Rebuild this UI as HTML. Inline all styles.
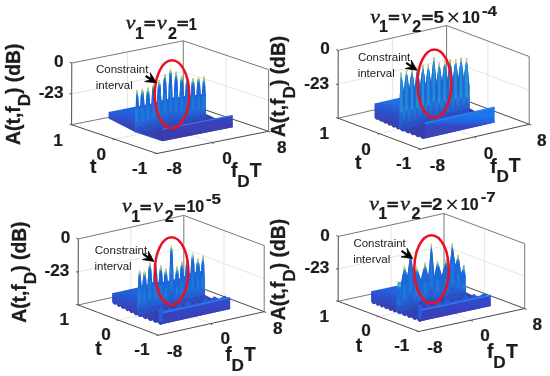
<!DOCTYPE html>
<html><head><meta charset="utf-8"><title>Ambiguity function figure</title>
<style>html,body{margin:0;padding:0;background:#fff}svg{display:block}</style></head>
<body><svg width="550" height="376" viewBox="0 0 550 376">
<defs><filter id="soft" x="0" y="0" width="550" height="376" filterUnits="userSpaceOnUse"><feGaussianBlur stdDeviation="0.4"/></filter></defs>
<rect width="550" height="376" fill="#fff"/>
<g filter="url(#soft)">
<g id="sp0"><line x1="71.6" y1="93.8" x2="183.3" y2="71.7" stroke="#e2e2e2" stroke-width="0.9"/>
<line x1="183.3" y1="71.7" x2="268.6" y2="100.5" stroke="#e2e2e2" stroke-width="0.9"/>
<line x1="127.5" y1="113.6" x2="127.5" y2="51.9" stroke="#e2e2e2" stroke-width="0.9"/>
<line x1="226.0" y1="116.9" x2="226.0" y2="55.2" stroke="#e2e2e2" stroke-width="0.9"/>
<line x1="114.2" y1="139.1" x2="226.0" y2="116.9" stroke="#e2e2e2" stroke-width="0.9"/>
<line x1="212.8" y1="142.4" x2="127.5" y2="113.6" stroke="#e2e2e2" stroke-width="0.9"/>
<line x1="71.8" y1="63.0" x2="183.3" y2="40.8" stroke="#787878" stroke-width="1"/>
<line x1="183.3" y1="40.8" x2="268.6" y2="69.6" stroke="#787878" stroke-width="1"/>
<line x1="183.3" y1="40.8" x2="183.3" y2="102.5" stroke="#787878" stroke-width="1"/>
<line x1="268.6" y1="69.6" x2="268.6" y2="131.3" stroke="#787878" stroke-width="1"/>
<line x1="183.3" y1="102.5" x2="71.6" y2="124.7" stroke="#787878" stroke-width="1"/>
<line x1="71.8" y1="63.0" x2="71.6" y2="124.7" stroke="#4a4a4a" stroke-width="1"/>
<line x1="71.6" y1="124.7" x2="156.9" y2="153.5" stroke="#4a4a4a" stroke-width="1"/>
<line x1="156.9" y1="153.5" x2="268.6" y2="131.3" stroke="#4a4a4a" stroke-width="1"/>
<line x1="183.3" y1="102.5" x2="268.6" y2="131.3" stroke="#4a4a4a" stroke-width="1"/>
<line x1="71.8" y1="63.0" x2="69.8" y2="62.2" stroke="#4a4a4a" stroke-width="1"/>
<line x1="71.6" y1="124.7" x2="69.6" y2="124.2" stroke="#4a4a4a" stroke-width="1"/>
<line x1="71.6" y1="93.8" x2="69.6" y2="93.8" stroke="#4a4a4a" stroke-width="1"/>
<line x1="156.9" y1="153.5" x2="154.9" y2="153.5" stroke="#4a4a4a" stroke-width="1"/>
<line x1="268.6" y1="131.3" x2="270.6" y2="132.1" stroke="#4a4a4a" stroke-width="1"/>
<line x1="114.2" y1="139.1" x2="112.7" y2="139.9" stroke="#4a4a4a" stroke-width="1"/>
<line x1="212.8" y1="142.4" x2="213.2" y2="144.0" stroke="#4a4a4a" stroke-width="1"/>
<linearGradient id="gs0" gradientUnits="userSpaceOnUse" x1="116.6" y1="109.0" x2="112.6" y2="128.2"><stop offset="0" stop-color="#1f66e2"/><stop offset="0.3" stop-color="#2a58d2"/><stop offset="0.65" stop-color="#3348c0"/><stop offset="1" stop-color="#3a3ca8"/></linearGradient>
<polygon points="108.6,112.0 179.2,97.9 206.0,107.0 206.0,118.2 135.4,132.2 108.6,118.4" fill="url(#gs0)" />
<clipPath id="cl0"><polygon points="135.4,132.2 135.4,109.0 135.4,109.0 135.7,108.9 135.8,107.5 135.8,105.7 135.9,103.6 135.9,100.7 136.0,97.6 136.1,95.2 136.2,93.3 136.4,91.4 136.5,90.5 136.3,90.0 137.2,89.8 137.1,90.3 137.4,91.1 137.8,92.7 138.0,94.3 138.2,96.5 138.4,99.2 138.6,101.8 138.7,103.6 138.7,105.2 138.8,106.5 139.5,106.3 139.5,106.3 140.2,106.2 140.3,104.9 140.4,103.2 140.5,101.4 140.6,98.7 140.8,95.9 141.1,93.6 141.3,91.9 141.6,90.2 141.9,89.3 141.9,88.8 142.8,88.6 142.7,89.1 143.1,89.9 143.4,91.5 143.6,93.1 143.8,95.3 144.0,98.0 144.2,100.6 144.3,102.5 144.4,104.1 144.4,105.3 145.1,105.2 145.1,105.2 145.8,105.1 145.9,103.8 146.0,102.1 146.1,100.2 146.3,97.5 146.5,94.7 146.7,92.5 146.9,90.7 147.2,89.0 147.5,88.1 147.5,87.6 148.4,87.4 148.4,87.9 148.7,88.7 149.0,90.3 149.2,92.0 149.4,94.1 149.6,96.9 149.8,99.5 149.9,101.3 150.0,102.9 150.1,104.2 150.8,104.1 150.8,104.1 151.5,103.9 151.5,102.4 151.6,100.5 151.7,98.3 151.9,95.1 152.1,91.8 152.3,89.1 152.5,87.1 152.8,85.0 153.1,84.0 153.1,83.4 154.0,83.3 154.0,83.8 154.3,84.7 154.6,86.6 154.8,88.5 155.0,90.9 155.3,94.1 155.4,97.1 155.5,99.2 155.6,101.0 155.7,102.5 156.4,102.3 156.4,102.3 157.1,102.2 157.1,100.5 157.2,98.5 157.3,96.0 157.5,92.6 157.7,89.0 157.9,86.2 158.1,84.0 158.5,81.7 158.8,80.6 158.7,80.0 159.6,79.9 159.6,80.4 159.9,81.4 160.2,83.4 160.5,85.5 160.7,88.2 160.9,91.6 161.0,94.9 161.2,97.2 161.2,99.2 161.3,100.8 162.0,100.6 162.0,100.6 162.7,100.5 162.8,98.5 162.9,96.0 163.0,93.1 163.1,89.0 163.3,84.6 163.5,81.2 163.8,78.6 164.1,75.9 164.4,74.6 164.4,73.9 165.3,73.7 165.2,74.4 165.6,75.6 165.9,78.0 166.1,80.5 166.3,83.8 166.5,87.9 166.7,91.9 166.8,94.7 166.9,97.1 166.9,99.0 167.6,98.9 167.6,98.9 168.3,98.7 168.4,96.5 168.5,93.7 168.6,90.4 168.7,85.7 169.0,80.9 169.2,77.0 169.4,74.0 169.7,71.0 170.0,69.5 170.0,68.8 170.9,68.6 170.9,69.3 171.2,70.7 171.5,73.6 171.7,76.5 171.9,80.3 172.1,85.1 172.3,89.6 172.4,92.9 172.5,95.7 172.5,97.9 173.2,97.8 173.2,97.8 173.9,97.6 174.0,95.7 174.1,93.2 174.2,90.4 174.4,86.4 174.6,82.2 174.8,78.9 175.0,76.3 175.3,73.7 175.6,72.4 175.6,71.7 176.5,71.6 176.5,72.2 176.8,73.4 177.1,76.0 177.3,78.5 177.5,81.9 177.7,86.1 177.9,90.1 178.0,93.0 178.1,95.4 178.2,97.4 178.9,97.3 178.9,97.3 179.6,97.1 179.6,95.5 179.7,93.5 179.8,91.1 180.0,87.8 180.2,84.3 180.4,81.5 180.6,79.4 180.9,77.2 181.3,76.1 181.2,75.6 182.1,75.4 182.1,76.0 182.4,76.9 182.7,79.0 182.9,81.0 183.2,83.7 183.4,87.1 183.5,90.4 183.6,92.7 183.7,94.7 183.8,96.3 184.5,96.1 184.5,96.1 185.2,96.0 185.3,94.6 185.3,92.8 185.4,90.8 185.6,87.9 185.8,84.9 186.0,82.5 186.2,80.6 186.6,78.7 186.9,77.7 186.9,77.2 187.8,77.0 187.7,77.6 188.0,78.5 188.4,80.3 188.6,82.1 188.8,84.5 189.0,87.6 189.2,90.5 189.3,92.6 189.3,94.4 189.4,95.8 190.1,95.6 190.1,95.6 190.8,95.5 190.9,94.2 191.0,92.6 191.1,90.7 191.2,88.0 191.4,85.2 191.7,83.0 191.9,81.2 192.2,79.5 192.5,78.6 192.5,78.1 193.4,77.9 193.3,78.4 193.7,79.2 194.0,80.9 194.2,82.6 194.4,84.9 194.6,87.7 194.8,90.4 194.9,92.3 195.0,94.0 195.0,95.3 195.7,95.1 195.7,95.1 196.4,95.0 196.5,93.7 196.6,92.0 196.7,90.0 196.9,87.3 197.1,84.4 197.3,82.1 197.5,80.3 197.8,78.5 198.1,77.6 198.1,77.1 199.0,76.9 199.0,77.4 199.3,78.2 199.6,79.9 199.8,81.6 200.0,83.8 200.2,86.6 200.4,89.3 200.5,91.2 200.6,92.9 200.7,94.2 201.4,94.0 201.4,94.0 202.1,93.9 202.1,92.6 202.2,91.0 202.3,89.2 202.5,86.5 202.7,83.8 202.9,81.6 203.1,79.9 203.4,78.2 203.7,77.3 203.7,76.8 204.6,76.6 204.4,77.2 204.7,78.0 204.9,79.8 205.0,81.6 205.1,84.0 205.3,87.0 205.4,89.9 205.5,91.9 205.5,93.6 205.6,95.0 206.0,94.9 206.0,94.9 206.0,118.2"/></clipPath>
<polygon points="135.4,132.2 135.4,109.0 135.4,109.0 135.7,108.9 135.8,107.5 135.8,105.7 135.9,103.6 135.9,100.7 136.0,97.6 136.1,95.2 136.2,93.3 136.4,91.4 136.5,90.5 136.3,90.0 137.2,89.8 137.1,90.3 137.4,91.1 137.8,92.7 138.0,94.3 138.2,96.5 138.4,99.2 138.6,101.8 138.7,103.6 138.7,105.2 138.8,106.5 139.5,106.3 139.5,106.3 140.2,106.2 140.3,104.9 140.4,103.2 140.5,101.4 140.6,98.7 140.8,95.9 141.1,93.6 141.3,91.9 141.6,90.2 141.9,89.3 141.9,88.8 142.8,88.6 142.7,89.1 143.1,89.9 143.4,91.5 143.6,93.1 143.8,95.3 144.0,98.0 144.2,100.6 144.3,102.5 144.4,104.1 144.4,105.3 145.1,105.2 145.1,105.2 145.8,105.1 145.9,103.8 146.0,102.1 146.1,100.2 146.3,97.5 146.5,94.7 146.7,92.5 146.9,90.7 147.2,89.0 147.5,88.1 147.5,87.6 148.4,87.4 148.4,87.9 148.7,88.7 149.0,90.3 149.2,92.0 149.4,94.1 149.6,96.9 149.8,99.5 149.9,101.3 150.0,102.9 150.1,104.2 150.8,104.1 150.8,104.1 151.5,103.9 151.5,102.4 151.6,100.5 151.7,98.3 151.9,95.1 152.1,91.8 152.3,89.1 152.5,87.1 152.8,85.0 153.1,84.0 153.1,83.4 154.0,83.3 154.0,83.8 154.3,84.7 154.6,86.6 154.8,88.5 155.0,90.9 155.3,94.1 155.4,97.1 155.5,99.2 155.6,101.0 155.7,102.5 156.4,102.3 156.4,102.3 157.1,102.2 157.1,100.5 157.2,98.5 157.3,96.0 157.5,92.6 157.7,89.0 157.9,86.2 158.1,84.0 158.5,81.7 158.8,80.6 158.7,80.0 159.6,79.9 159.6,80.4 159.9,81.4 160.2,83.4 160.5,85.5 160.7,88.2 160.9,91.6 161.0,94.9 161.2,97.2 161.2,99.2 161.3,100.8 162.0,100.6 162.0,100.6 162.7,100.5 162.8,98.5 162.9,96.0 163.0,93.1 163.1,89.0 163.3,84.6 163.5,81.2 163.8,78.6 164.1,75.9 164.4,74.6 164.4,73.9 165.3,73.7 165.2,74.4 165.6,75.6 165.9,78.0 166.1,80.5 166.3,83.8 166.5,87.9 166.7,91.9 166.8,94.7 166.9,97.1 166.9,99.0 167.6,98.9 167.6,98.9 168.3,98.7 168.4,96.5 168.5,93.7 168.6,90.4 168.7,85.7 169.0,80.9 169.2,77.0 169.4,74.0 169.7,71.0 170.0,69.5 170.0,68.8 170.9,68.6 170.9,69.3 171.2,70.7 171.5,73.6 171.7,76.5 171.9,80.3 172.1,85.1 172.3,89.6 172.4,92.9 172.5,95.7 172.5,97.9 173.2,97.8 173.2,97.8 173.9,97.6 174.0,95.7 174.1,93.2 174.2,90.4 174.4,86.4 174.6,82.2 174.8,78.9 175.0,76.3 175.3,73.7 175.6,72.4 175.6,71.7 176.5,71.6 176.5,72.2 176.8,73.4 177.1,76.0 177.3,78.5 177.5,81.9 177.7,86.1 177.9,90.1 178.0,93.0 178.1,95.4 178.2,97.4 178.9,97.3 178.9,97.3 179.6,97.1 179.6,95.5 179.7,93.5 179.8,91.1 180.0,87.8 180.2,84.3 180.4,81.5 180.6,79.4 180.9,77.2 181.3,76.1 181.2,75.6 182.1,75.4 182.1,76.0 182.4,76.9 182.7,79.0 182.9,81.0 183.2,83.7 183.4,87.1 183.5,90.4 183.6,92.7 183.7,94.7 183.8,96.3 184.5,96.1 184.5,96.1 185.2,96.0 185.3,94.6 185.3,92.8 185.4,90.8 185.6,87.9 185.8,84.9 186.0,82.5 186.2,80.6 186.6,78.7 186.9,77.7 186.9,77.2 187.8,77.0 187.7,77.6 188.0,78.5 188.4,80.3 188.6,82.1 188.8,84.5 189.0,87.6 189.2,90.5 189.3,92.6 189.3,94.4 189.4,95.8 190.1,95.6 190.1,95.6 190.8,95.5 190.9,94.2 191.0,92.6 191.1,90.7 191.2,88.0 191.4,85.2 191.7,83.0 191.9,81.2 192.2,79.5 192.5,78.6 192.5,78.1 193.4,77.9 193.3,78.4 193.7,79.2 194.0,80.9 194.2,82.6 194.4,84.9 194.6,87.7 194.8,90.4 194.9,92.3 195.0,94.0 195.0,95.3 195.7,95.1 195.7,95.1 196.4,95.0 196.5,93.7 196.6,92.0 196.7,90.0 196.9,87.3 197.1,84.4 197.3,82.1 197.5,80.3 197.8,78.5 198.1,77.6 198.1,77.1 199.0,76.9 199.0,77.4 199.3,78.2 199.6,79.9 199.8,81.6 200.0,83.8 200.2,86.6 200.4,89.3 200.5,91.2 200.6,92.9 200.7,94.2 201.4,94.0 201.4,94.0 202.1,93.9 202.1,92.6 202.2,91.0 202.3,89.2 202.5,86.5 202.7,83.8 202.9,81.6 203.1,79.9 203.4,78.2 203.7,77.3 203.7,76.8 204.6,76.6 204.4,77.2 204.7,78.0 204.9,79.8 205.0,81.6 205.1,84.0 205.3,87.0 205.4,89.9 205.5,91.9 205.5,93.6 205.6,95.0 206.0,94.9 206.0,94.9 206.0,118.2" fill="#1a68d8" />
<g clip-path="url(#cl0)">
<linearGradient id="pk0_0" gradientUnits="userSpaceOnUse" x1="0" y1="90.2" x2="0" y2="132.0"><stop offset="0" stop-color="#f6e636"/><stop offset="0.043" stop-color="#e6d044"/><stop offset="0.086" stop-color="#6abca0"/><stop offset="0.124" stop-color="#1f8cd8"/><stop offset="0.191" stop-color="#1a68d8"/><stop offset="0.550" stop-color="#1a68d8"/><stop offset="0.750" stop-color="#1f6cd8"/><stop offset="1" stop-color="#2452cc"/></linearGradient>
<rect x="130.8" y="89.2" width="9.0" height="49.8" fill="url(#pk0_0)"/>
<rect x="134.9" y="109.2" width="3.5" height="18.8" rx="1" fill="#2f94e0" opacity="0.35"/>
<linearGradient id="pk0_1" gradientUnits="userSpaceOnUse" x1="0" y1="88.9" x2="0" y2="130.9"><stop offset="0" stop-color="#f6e636"/><stop offset="0.043" stop-color="#e6d044"/><stop offset="0.086" stop-color="#6abca0"/><stop offset="0.124" stop-color="#1f8cd8"/><stop offset="0.191" stop-color="#1a68d8"/><stop offset="0.550" stop-color="#1a68d8"/><stop offset="0.750" stop-color="#1f6cd8"/><stop offset="1" stop-color="#2452cc"/></linearGradient>
<rect x="139.2" y="87.9" width="6.2" height="50.0" fill="url(#pk0_1)"/>
<rect x="141.1" y="107.9" width="2.4" height="18.9" rx="1" fill="#2f94e0" opacity="0.35"/>
<linearGradient id="pk0_2" gradientUnits="userSpaceOnUse" x1="0" y1="87.7" x2="0" y2="129.7"><stop offset="0" stop-color="#f6e636"/><stop offset="0.043" stop-color="#e6d044"/><stop offset="0.086" stop-color="#6abca0"/><stop offset="0.124" stop-color="#1f8cd8"/><stop offset="0.190" stop-color="#1a68d8"/><stop offset="0.550" stop-color="#1a68d8"/><stop offset="0.750" stop-color="#1f6cd8"/><stop offset="1" stop-color="#2452cc"/></linearGradient>
<rect x="144.8" y="86.7" width="6.2" height="50.0" fill="url(#pk0_2)"/>
<rect x="146.8" y="106.7" width="2.4" height="18.9" rx="1" fill="#2f94e0" opacity="0.35"/>
<linearGradient id="pk0_3" gradientUnits="userSpaceOnUse" x1="0" y1="83.6" x2="0" y2="128.6"><stop offset="0" stop-color="#f6e636"/><stop offset="0.040" stop-color="#e6d044"/><stop offset="0.080" stop-color="#6abca0"/><stop offset="0.115" stop-color="#1f8cd8"/><stop offset="0.178" stop-color="#1a68d8"/><stop offset="0.550" stop-color="#1a68d8"/><stop offset="0.750" stop-color="#1f6cd8"/><stop offset="1" stop-color="#2452cc"/></linearGradient>
<rect x="150.5" y="82.6" width="6.2" height="53.0" fill="url(#pk0_3)"/>
<rect x="152.4" y="102.6" width="2.4" height="20.3" rx="1" fill="#2f94e0" opacity="0.35"/>
<linearGradient id="pk0_4" gradientUnits="userSpaceOnUse" x1="0" y1="80.2" x2="0" y2="127.5"><stop offset="0" stop-color="#f6e636"/><stop offset="0.038" stop-color="#e6d044"/><stop offset="0.076" stop-color="#6abca0"/><stop offset="0.110" stop-color="#1f8cd8"/><stop offset="0.169" stop-color="#1a68d8"/><stop offset="0.550" stop-color="#1a68d8"/><stop offset="0.750" stop-color="#1f6cd8"/><stop offset="1" stop-color="#2452cc"/></linearGradient>
<rect x="156.1" y="79.2" width="6.2" height="55.3" fill="url(#pk0_4)"/>
<rect x="158.0" y="99.2" width="2.4" height="21.3" rx="1" fill="#2f94e0" opacity="0.35"/>
<linearGradient id="pk0_5" gradientUnits="userSpaceOnUse" x1="0" y1="74.1" x2="0" y2="126.4"><stop offset="0" stop-color="#f6e636"/><stop offset="0.034" stop-color="#e6d044"/><stop offset="0.069" stop-color="#6abca0"/><stop offset="0.099" stop-color="#1f8cd8"/><stop offset="0.153" stop-color="#1a68d8"/><stop offset="0.550" stop-color="#1a68d8"/><stop offset="0.750" stop-color="#1f6cd8"/><stop offset="1" stop-color="#2452cc"/></linearGradient>
<rect x="161.7" y="73.1" width="6.2" height="60.3" fill="url(#pk0_5)"/>
<rect x="163.6" y="93.1" width="2.4" height="23.5" rx="1" fill="#2f94e0" opacity="0.35"/>
<linearGradient id="pk0_6" gradientUnits="userSpaceOnUse" x1="0" y1="68.9" x2="0" y2="125.3"><stop offset="0" stop-color="#f6e636"/><stop offset="0.032" stop-color="#e6d044"/><stop offset="0.064" stop-color="#6abca0"/><stop offset="0.092" stop-color="#1f8cd8"/><stop offset="0.142" stop-color="#1a68d8"/><stop offset="0.550" stop-color="#1a68d8"/><stop offset="0.750" stop-color="#1f6cd8"/><stop offset="1" stop-color="#2452cc"/></linearGradient>
<rect x="167.3" y="67.9" width="6.2" height="64.3" fill="url(#pk0_6)"/>
<rect x="169.3" y="87.9" width="2.4" height="25.3" rx="1" fill="#2f94e0" opacity="0.35"/>
<linearGradient id="pk0_7" gradientUnits="userSpaceOnUse" x1="0" y1="71.9" x2="0" y2="124.2"><stop offset="0" stop-color="#f6e636"/><stop offset="0.034" stop-color="#e6d044"/><stop offset="0.069" stop-color="#6abca0"/><stop offset="0.100" stop-color="#1f8cd8"/><stop offset="0.153" stop-color="#1a68d8"/><stop offset="0.550" stop-color="#1a68d8"/><stop offset="0.750" stop-color="#1f6cd8"/><stop offset="1" stop-color="#2452cc"/></linearGradient>
<rect x="172.9" y="70.9" width="6.2" height="60.3" fill="url(#pk0_7)"/>
<rect x="174.9" y="90.9" width="2.4" height="23.5" rx="1" fill="#2f94e0" opacity="0.35"/>
<linearGradient id="pk0_8" gradientUnits="userSpaceOnUse" x1="0" y1="75.7" x2="0" y2="123.0"><stop offset="0" stop-color="#f6e636"/><stop offset="0.038" stop-color="#e6d044"/><stop offset="0.076" stop-color="#6abca0"/><stop offset="0.110" stop-color="#1f8cd8"/><stop offset="0.169" stop-color="#1a68d8"/><stop offset="0.550" stop-color="#1a68d8"/><stop offset="0.750" stop-color="#1f6cd8"/><stop offset="1" stop-color="#2452cc"/></linearGradient>
<rect x="178.6" y="74.7" width="6.2" height="55.3" fill="url(#pk0_8)"/>
<rect x="180.5" y="94.7" width="2.4" height="21.3" rx="1" fill="#2f94e0" opacity="0.35"/>
<linearGradient id="pk0_9" gradientUnits="userSpaceOnUse" x1="0" y1="77.4" x2="0" y2="121.9"><stop offset="0" stop-color="#f6e636"/><stop offset="0.040" stop-color="#e6d044"/><stop offset="0.081" stop-color="#6abca0"/><stop offset="0.117" stop-color="#1f8cd8"/><stop offset="0.180" stop-color="#1a68d8"/><stop offset="0.550" stop-color="#1a68d8"/><stop offset="0.750" stop-color="#1f6cd8"/><stop offset="1" stop-color="#2452cc"/></linearGradient>
<rect x="184.2" y="76.4" width="6.2" height="52.5" fill="url(#pk0_9)"/>
<rect x="186.1" y="96.4" width="2.4" height="20.0" rx="1" fill="#2f94e0" opacity="0.35"/>
<linearGradient id="pk0_10" gradientUnits="userSpaceOnUse" x1="0" y1="78.2" x2="0" y2="120.8"><stop offset="0" stop-color="#f6e636"/><stop offset="0.042" stop-color="#e6d044"/><stop offset="0.085" stop-color="#6abca0"/><stop offset="0.122" stop-color="#1f8cd8"/><stop offset="0.188" stop-color="#1a68d8"/><stop offset="0.550" stop-color="#1a68d8"/><stop offset="0.750" stop-color="#1f6cd8"/><stop offset="1" stop-color="#2452cc"/></linearGradient>
<rect x="189.8" y="77.2" width="6.2" height="50.6" fill="url(#pk0_10)"/>
<rect x="191.7" y="97.2" width="2.4" height="19.2" rx="1" fill="#2f94e0" opacity="0.35"/>
<linearGradient id="pk0_11" gradientUnits="userSpaceOnUse" x1="0" y1="77.2" x2="0" y2="119.7"><stop offset="0" stop-color="#f6e636"/><stop offset="0.042" stop-color="#e6d044"/><stop offset="0.085" stop-color="#6abca0"/><stop offset="0.122" stop-color="#1f8cd8"/><stop offset="0.188" stop-color="#1a68d8"/><stop offset="0.550" stop-color="#1a68d8"/><stop offset="0.750" stop-color="#1f6cd8"/><stop offset="1" stop-color="#2452cc"/></linearGradient>
<rect x="195.4" y="76.2" width="6.2" height="50.4" fill="url(#pk0_11)"/>
<rect x="197.4" y="96.2" width="2.4" height="19.1" rx="1" fill="#2f94e0" opacity="0.35"/>
<linearGradient id="pk0_12" gradientUnits="userSpaceOnUse" x1="0" y1="76.9" x2="0" y2="118.6"><stop offset="0" stop-color="#f6e636"/><stop offset="0.043" stop-color="#e6d044"/><stop offset="0.086" stop-color="#6abca0"/><stop offset="0.125" stop-color="#1f8cd8"/><stop offset="0.192" stop-color="#1a68d8"/><stop offset="0.550" stop-color="#1a68d8"/><stop offset="0.750" stop-color="#1f6cd8"/><stop offset="1" stop-color="#2452cc"/></linearGradient>
<rect x="201.1" y="75.9" width="9.0" height="49.6" fill="url(#pk0_12)"/>
<rect x="202.4" y="95.9" width="3.5" height="18.7" rx="1" fill="#2f94e0" opacity="0.35"/>
</g>
<polygon points="135.4,132.2 135.4,109.0 137.0,108.7 137.0,131.9" fill="#2682e2" />
<linearGradient id="gf0" gradientUnits="userSpaceOnUse" x1="135.4" y1="131.0" x2="162.2" y2="141.3"><stop offset="0" stop-color="#2e48bc"/><stop offset="1" stop-color="#383caa"/></linearGradient>
<polygon points="135.4,127.9 206.0,113.9 232.8,126.0 232.8,127.3 162.2,141.3 135.4,132.2" fill="url(#gf0)" />
<polygon points="133.9,131.3 136.3,121.4 137.1,121.2 139.5,130.2 143.5,133.1" fill="#2a58cc" opacity="0.7"/>
<polygon points="139.5,130.2 141.9,120.2 142.7,120.1 145.1,129.1 149.1,131.9" fill="#2a58cc" opacity="0.7"/>
<polygon points="145.1,129.1 147.5,119.1 148.4,118.9 150.8,128.0 154.8,130.8" fill="#2a58cc" opacity="0.7"/>
<polygon points="150.8,128.0 153.1,117.1 154.0,116.9 156.4,126.8 160.4,129.7" fill="#2a58cc" opacity="0.7"/>
<polygon points="156.4,126.8 158.8,115.3 159.6,115.1 162.0,125.7 166.0,128.6" fill="#2a58cc" opacity="0.7"/>
<polygon points="162.0,125.7 164.4,112.6 165.2,112.5 167.6,124.6 171.6,127.5" fill="#2a58cc" opacity="0.7"/>
<polygon points="167.6,124.6 170.0,110.3 170.9,110.2 173.2,123.5 177.3,126.4" fill="#2a58cc" opacity="0.7"/>
<polygon points="173.2,123.5 175.6,110.4 176.5,110.3 178.9,122.4 182.9,125.2" fill="#2a58cc" opacity="0.7"/>
<polygon points="178.9,122.4 181.3,110.8 182.1,110.6 184.5,121.3 188.5,124.1" fill="#2a58cc" opacity="0.7"/>
<polygon points="184.5,121.3 186.9,110.5 187.7,110.3 190.1,120.1 194.1,123.0" fill="#2a58cc" opacity="0.7"/>
<polygon points="190.1,120.1 192.5,110.0 193.3,109.8 195.7,119.0 199.7,121.9" fill="#2a58cc" opacity="0.7"/>
<polygon points="195.7,119.0 198.1,108.9 199.0,108.7 201.4,117.9 205.4,120.8" fill="#2a58cc" opacity="0.7"/>
<polygon points="201.4,117.9 203.7,108.0 204.6,107.9 207.0,116.8 211.0,119.6" fill="#2a58cc" opacity="0.7"/>
<linearGradient id="gw0" gradientUnits="userSpaceOnUse" x1="0" y1="122.5" x2="0" y2="134.4"><stop offset="0" stop-color="#3a42b8"/><stop offset="1" stop-color="#3a3cae"/></linearGradient>
<polygon points="162.2,141.3 162.2,129.4 232.8,115.4 232.8,127.3" fill="url(#gw0)" />
<line x1="162.2" y1="129.4" x2="232.8" y2="115.4" stroke="#2c7cea" stroke-width="1.4"/>
<ellipse cx="172" cy="94.3" rx="17.2" ry="34.0" fill="none" stroke="#ee1020" stroke-width="2.5"/>
<line x1="145.6" y1="76.0" x2="153.0" y2="80.6" stroke="#000" stroke-width="2.2"/>
<polygon points="156.4,82.7 150.2,72.7 151.1,79.4 144.7,81.6" fill="#000" stroke="#000" stroke-width="0.8" stroke-linejoin="round"/></g>
<g id="sp1"><line x1="338.1" y1="84.3" x2="446.6" y2="59.4" stroke="#e2e2e2" stroke-width="0.9"/>
<line x1="446.6" y1="59.4" x2="529.2" y2="90.4" stroke="#e2e2e2" stroke-width="0.9"/>
<line x1="392.4" y1="105.8" x2="392.4" y2="37.9" stroke="#e2e2e2" stroke-width="0.9"/>
<line x1="487.9" y1="108.8" x2="487.9" y2="41.0" stroke="#e2e2e2" stroke-width="0.9"/>
<line x1="379.4" y1="133.7" x2="487.9" y2="108.8" stroke="#e2e2e2" stroke-width="0.9"/>
<line x1="475.0" y1="136.8" x2="392.4" y2="105.8" stroke="#e2e2e2" stroke-width="0.9"/>
<line x1="338.2" y1="50.4" x2="446.6" y2="25.5" stroke="#787878" stroke-width="1"/>
<line x1="446.6" y1="25.5" x2="529.2" y2="56.5" stroke="#787878" stroke-width="1"/>
<line x1="446.6" y1="25.5" x2="446.6" y2="93.3" stroke="#787878" stroke-width="1"/>
<line x1="529.2" y1="56.5" x2="529.2" y2="124.3" stroke="#787878" stroke-width="1"/>
<line x1="446.6" y1="93.3" x2="338.1" y2="118.2" stroke="#787878" stroke-width="1"/>
<line x1="338.2" y1="50.4" x2="338.1" y2="118.2" stroke="#4a4a4a" stroke-width="1"/>
<line x1="338.1" y1="118.2" x2="420.7" y2="149.2" stroke="#4a4a4a" stroke-width="1"/>
<line x1="420.7" y1="149.2" x2="529.2" y2="124.3" stroke="#4a4a4a" stroke-width="1"/>
<line x1="446.6" y1="93.3" x2="529.2" y2="124.3" stroke="#4a4a4a" stroke-width="1"/>
<line x1="338.2" y1="50.4" x2="336.2" y2="49.6" stroke="#4a4a4a" stroke-width="1"/>
<line x1="338.1" y1="118.2" x2="336.1" y2="117.7" stroke="#4a4a4a" stroke-width="1"/>
<line x1="338.1" y1="84.3" x2="336.1" y2="84.3" stroke="#4a4a4a" stroke-width="1"/>
<line x1="420.7" y1="149.2" x2="418.7" y2="149.2" stroke="#4a4a4a" stroke-width="1"/>
<line x1="529.2" y1="124.3" x2="531.2" y2="125.1" stroke="#4a4a4a" stroke-width="1"/>
<line x1="379.4" y1="133.7" x2="377.8" y2="134.5" stroke="#4a4a4a" stroke-width="1"/>
<line x1="475.0" y1="136.8" x2="475.5" y2="138.3" stroke="#4a4a4a" stroke-width="1"/>
<linearGradient id="gs1" gradientUnits="userSpaceOnUse" x1="382.5" y1="100.5" x2="378.5" y2="125.0"><stop offset="0" stop-color="#2270ea"/><stop offset="0.3" stop-color="#2a58d2"/><stop offset="0.65" stop-color="#3348c0"/><stop offset="1" stop-color="#3a3ca8"/></linearGradient>
<polygon points="374.5,103.5 444.3,87.5 469.5,97.0 469.5,113.0 399.7,129.0 398.6,129.6 397.6,129.3 396.5,128.6 395.5,127.1 394.4,127.7 393.4,127.4 392.3,126.7 391.3,125.2 390.2,125.8 389.2,125.5 388.1,124.8 387.1,123.3 386.0,123.8 385.0,123.5 383.9,122.9 382.9,121.4 381.8,121.9 380.8,121.6 379.7,121.0 378.7,119.5 377.6,120.0 376.6,119.7 375.5,119.1 374.5,117.6" fill="url(#gs1)" />
<clipPath id="cl1"><polygon points="399.7,129.0 399.7,100.6 399.7,100.6 399.7,100.6 399.7,99.5 399.8,98.2 399.8,96.5 399.9,93.8 400.1,90.6 400.2,87.5 400.3,84.5 400.5,80.4 400.7,76.6 400.2,72.8 401.8,72.4 401.5,75.4 401.9,78.0 402.4,80.8 402.6,82.9 402.9,85.0 403.2,87.3 403.4,89.1 403.5,90.3 403.6,91.2 403.7,91.9 403.7,91.9 403.7,91.9 403.7,91.9 403.8,91.1 403.9,90.1 404.0,88.8 404.3,86.7 404.5,84.2 404.8,81.8 405.1,79.5 405.5,76.3 405.9,73.4 405.7,70.4 407.3,70.0 407.0,73.0 407.4,75.6 407.8,78.5 408.1,80.6 408.4,82.8 408.6,85.0 408.9,86.9 409.0,88.0 409.1,89.0 409.2,89.7 409.2,89.7 409.2,89.7 409.2,89.7 409.3,89.0 409.4,88.0 409.5,86.7 409.7,84.8 410.0,82.4 410.3,80.2 410.5,78.0 411.0,74.9 411.4,72.2 411.1,69.3 412.7,69.0 412.5,71.9 412.9,74.5 413.3,77.4 413.6,79.4 413.8,81.6 414.1,83.8 414.3,85.6 414.5,86.8 414.6,87.7 414.6,88.5 414.6,88.5 414.6,88.5 414.6,88.5 414.7,87.7 414.8,86.7 415.0,85.4 415.2,83.4 415.5,81.0 415.7,78.6 416.0,76.4 416.4,73.2 416.8,70.4 416.6,67.5 418.2,67.1 417.9,70.1 418.3,72.6 418.7,75.5 419.0,77.6 419.3,79.7 419.6,81.9 419.8,83.8 419.9,84.9 420.0,85.9 420.1,86.6 420.1,86.6 420.1,86.6 420.1,86.6 420.2,85.8 420.3,84.8 420.4,83.5 420.7,81.5 420.9,79.0 421.2,76.7 421.5,74.4 421.9,71.2 422.3,68.4 422.0,65.4 423.6,65.0 423.4,68.1 423.8,70.7 424.2,73.7 424.5,75.8 424.7,78.0 425.0,80.3 425.2,82.2 425.4,83.4 425.5,84.4 425.6,85.1 425.6,85.1 425.6,85.1 425.6,85.1 425.6,84.4 425.8,83.4 425.9,82.2 426.1,80.2 426.4,77.9 426.7,75.6 426.9,73.4 427.3,70.4 427.8,67.6 427.5,64.8 429.1,64.4 428.8,67.4 429.3,69.9 429.7,72.8 429.9,74.9 430.2,77.0 430.5,79.2 430.7,81.1 430.8,82.2 430.9,83.2 431.0,83.9 431.0,83.9 431.0,83.9 431.0,83.9 431.1,82.9 431.2,81.6 431.4,80.0 431.6,77.4 431.8,74.3 432.1,71.3 432.4,68.5 432.8,64.5 433.2,60.8 433.0,57.1 434.6,56.8 434.3,60.7 434.7,64.2 435.1,68.1 435.4,71.0 435.7,73.9 435.9,76.9 436.2,79.4 436.3,81.0 436.4,82.3 436.5,83.3 436.5,83.3 436.5,83.3 436.5,83.3 436.6,82.6 436.7,81.6 436.8,80.3 437.0,78.4 437.3,76.0 437.6,73.8 437.9,71.6 438.3,68.5 438.7,65.8 438.4,62.9 440.0,62.6 439.8,65.5 440.2,68.1 440.6,71.0 440.9,73.0 441.1,75.2 441.4,77.4 441.6,79.2 441.8,80.4 441.9,81.3 442.0,82.1 442.0,82.1 442.0,82.1 442.0,82.1 442.0,81.3 442.1,80.2 442.3,79.0 442.5,77.0 442.8,74.6 443.0,72.2 443.3,70.0 443.7,66.8 444.1,63.9 443.9,61.0 445.5,60.6 445.2,63.6 445.6,66.2 446.0,69.0 446.3,71.1 446.6,73.2 446.9,75.5 447.1,77.3 447.2,78.5 447.3,79.4 447.4,80.1 447.4,80.1 447.4,80.1 447.4,80.1 447.5,79.4 447.6,78.4 447.7,77.1 448.0,75.2 448.2,72.8 448.5,70.6 448.8,68.4 449.2,65.3 449.6,62.5 449.3,59.7 450.9,59.3 450.7,62.4 451.1,65.2 451.5,68.3 451.8,70.5 452.1,72.7 452.3,75.1 452.5,77.1 452.7,78.3 452.8,79.3 452.9,80.1 452.9,80.1 452.9,80.1 452.9,80.1 453.0,79.3 453.1,78.3 453.2,77.1 453.4,75.2 453.7,72.8 454.0,70.6 454.2,68.4 454.6,65.3 455.1,62.6 454.8,59.7 456.4,59.3 456.1,62.3 456.6,64.9 457.0,67.8 457.2,69.8 457.5,72.0 457.8,74.2 458.0,76.0 458.1,77.2 458.3,78.1 458.3,78.8 458.3,78.8 458.3,78.8 458.3,78.8 458.4,78.1 458.5,77.0 458.7,75.8 458.9,73.8 459.2,71.4 459.4,69.0 459.7,66.8 460.1,63.6 460.5,60.8 460.3,57.9 461.9,57.5 461.6,60.7 462.0,63.5 462.4,66.7 462.7,68.9 463.0,71.3 463.2,73.7 463.5,75.7 463.6,77.0 463.7,78.0 463.8,78.8 463.8,78.8 463.8,78.8 463.8,78.8 463.9,78.1 464.0,77.1 464.1,75.8 464.3,73.9 464.6,71.5 464.9,69.3 465.2,67.1 465.6,64.0 466.0,61.3 465.7,58.4 467.3,58.1 467.1,62.0 467.5,65.5 467.9,69.4 468.2,72.2 468.4,75.2 468.7,78.2 468.9,80.7 469.1,82.3 469.2,83.6 469.3,84.6 469.3,84.6 469.5,84.6 469.5,113.0"/></clipPath>
<polygon points="399.7,129.0 399.7,100.6 399.7,100.6 399.7,100.6 399.7,99.5 399.8,98.2 399.8,96.5 399.9,93.8 400.1,90.6 400.2,87.5 400.3,84.5 400.5,80.4 400.7,76.6 400.2,72.8 401.8,72.4 401.5,75.4 401.9,78.0 402.4,80.8 402.6,82.9 402.9,85.0 403.2,87.3 403.4,89.1 403.5,90.3 403.6,91.2 403.7,91.9 403.7,91.9 403.7,91.9 403.7,91.9 403.8,91.1 403.9,90.1 404.0,88.8 404.3,86.7 404.5,84.2 404.8,81.8 405.1,79.5 405.5,76.3 405.9,73.4 405.7,70.4 407.3,70.0 407.0,73.0 407.4,75.6 407.8,78.5 408.1,80.6 408.4,82.8 408.6,85.0 408.9,86.9 409.0,88.0 409.1,89.0 409.2,89.7 409.2,89.7 409.2,89.7 409.2,89.7 409.3,89.0 409.4,88.0 409.5,86.7 409.7,84.8 410.0,82.4 410.3,80.2 410.5,78.0 411.0,74.9 411.4,72.2 411.1,69.3 412.7,69.0 412.5,71.9 412.9,74.5 413.3,77.4 413.6,79.4 413.8,81.6 414.1,83.8 414.3,85.6 414.5,86.8 414.6,87.7 414.6,88.5 414.6,88.5 414.6,88.5 414.6,88.5 414.7,87.7 414.8,86.7 415.0,85.4 415.2,83.4 415.5,81.0 415.7,78.6 416.0,76.4 416.4,73.2 416.8,70.4 416.6,67.5 418.2,67.1 417.9,70.1 418.3,72.6 418.7,75.5 419.0,77.6 419.3,79.7 419.6,81.9 419.8,83.8 419.9,84.9 420.0,85.9 420.1,86.6 420.1,86.6 420.1,86.6 420.1,86.6 420.2,85.8 420.3,84.8 420.4,83.5 420.7,81.5 420.9,79.0 421.2,76.7 421.5,74.4 421.9,71.2 422.3,68.4 422.0,65.4 423.6,65.0 423.4,68.1 423.8,70.7 424.2,73.7 424.5,75.8 424.7,78.0 425.0,80.3 425.2,82.2 425.4,83.4 425.5,84.4 425.6,85.1 425.6,85.1 425.6,85.1 425.6,85.1 425.6,84.4 425.8,83.4 425.9,82.2 426.1,80.2 426.4,77.9 426.7,75.6 426.9,73.4 427.3,70.4 427.8,67.6 427.5,64.8 429.1,64.4 428.8,67.4 429.3,69.9 429.7,72.8 429.9,74.9 430.2,77.0 430.5,79.2 430.7,81.1 430.8,82.2 430.9,83.2 431.0,83.9 431.0,83.9 431.0,83.9 431.0,83.9 431.1,82.9 431.2,81.6 431.4,80.0 431.6,77.4 431.8,74.3 432.1,71.3 432.4,68.5 432.8,64.5 433.2,60.8 433.0,57.1 434.6,56.8 434.3,60.7 434.7,64.2 435.1,68.1 435.4,71.0 435.7,73.9 435.9,76.9 436.2,79.4 436.3,81.0 436.4,82.3 436.5,83.3 436.5,83.3 436.5,83.3 436.5,83.3 436.6,82.6 436.7,81.6 436.8,80.3 437.0,78.4 437.3,76.0 437.6,73.8 437.9,71.6 438.3,68.5 438.7,65.8 438.4,62.9 440.0,62.6 439.8,65.5 440.2,68.1 440.6,71.0 440.9,73.0 441.1,75.2 441.4,77.4 441.6,79.2 441.8,80.4 441.9,81.3 442.0,82.1 442.0,82.1 442.0,82.1 442.0,82.1 442.0,81.3 442.1,80.2 442.3,79.0 442.5,77.0 442.8,74.6 443.0,72.2 443.3,70.0 443.7,66.8 444.1,63.9 443.9,61.0 445.5,60.6 445.2,63.6 445.6,66.2 446.0,69.0 446.3,71.1 446.6,73.2 446.9,75.5 447.1,77.3 447.2,78.5 447.3,79.4 447.4,80.1 447.4,80.1 447.4,80.1 447.4,80.1 447.5,79.4 447.6,78.4 447.7,77.1 448.0,75.2 448.2,72.8 448.5,70.6 448.8,68.4 449.2,65.3 449.6,62.5 449.3,59.7 450.9,59.3 450.7,62.4 451.1,65.2 451.5,68.3 451.8,70.5 452.1,72.7 452.3,75.1 452.5,77.1 452.7,78.3 452.8,79.3 452.9,80.1 452.9,80.1 452.9,80.1 452.9,80.1 453.0,79.3 453.1,78.3 453.2,77.1 453.4,75.2 453.7,72.8 454.0,70.6 454.2,68.4 454.6,65.3 455.1,62.6 454.8,59.7 456.4,59.3 456.1,62.3 456.6,64.9 457.0,67.8 457.2,69.8 457.5,72.0 457.8,74.2 458.0,76.0 458.1,77.2 458.3,78.1 458.3,78.8 458.3,78.8 458.3,78.8 458.3,78.8 458.4,78.1 458.5,77.0 458.7,75.8 458.9,73.8 459.2,71.4 459.4,69.0 459.7,66.8 460.1,63.6 460.5,60.8 460.3,57.9 461.9,57.5 461.6,60.7 462.0,63.5 462.4,66.7 462.7,68.9 463.0,71.3 463.2,73.7 463.5,75.7 463.6,77.0 463.7,78.0 463.8,78.8 463.8,78.8 463.8,78.8 463.8,78.8 463.9,78.1 464.0,77.1 464.1,75.8 464.3,73.9 464.6,71.5 464.9,69.3 465.2,67.1 465.6,64.0 466.0,61.3 465.7,58.4 467.3,58.1 467.1,62.0 467.5,65.5 467.9,69.4 468.2,72.2 468.4,75.2 468.7,78.2 468.9,80.7 469.1,82.3 469.2,83.6 469.3,84.6 469.3,84.6 469.5,84.6 469.5,113.0" fill="#1a68d8" />
<g clip-path="url(#cl1)">
<linearGradient id="pk1_0" gradientUnits="userSpaceOnUse" x1="0" y1="72.9" x2="0" y2="128.7"><stop offset="0" stop-color="#f6e636"/><stop offset="0.032" stop-color="#e6d044"/><stop offset="0.064" stop-color="#6abca0"/><stop offset="0.093" stop-color="#1f8cd8"/><stop offset="0.143" stop-color="#1a68d8"/><stop offset="0.550" stop-color="#1a68d8"/><stop offset="0.750" stop-color="#2278da"/><stop offset="1" stop-color="#2452cc"/></linearGradient>
<rect x="395.2" y="71.9" width="8.8" height="63.9" fill="url(#pk1_0)"/>
<rect x="399.3" y="78.9" width="3.4" height="33.5" rx="1" fill="#30b4cc" opacity="0.5"/>
<linearGradient id="pk1_1" gradientUnits="userSpaceOnUse" x1="0" y1="70.5" x2="0" y2="127.5"><stop offset="0" stop-color="#f6e636"/><stop offset="0.032" stop-color="#e6d044"/><stop offset="0.063" stop-color="#6abca0"/><stop offset="0.091" stop-color="#1f8cd8"/><stop offset="0.140" stop-color="#1a68d8"/><stop offset="0.550" stop-color="#1a68d8"/><stop offset="0.750" stop-color="#2278da"/><stop offset="1" stop-color="#2452cc"/></linearGradient>
<rect x="403.4" y="69.5" width="6.1" height="65.0" fill="url(#pk1_1)"/>
<rect x="405.3" y="76.5" width="2.3" height="34.2" rx="1" fill="#30b4cc" opacity="0.5"/>
<linearGradient id="pk1_2" gradientUnits="userSpaceOnUse" x1="0" y1="69.4" x2="0" y2="126.2"><stop offset="0" stop-color="#f6e636"/><stop offset="0.032" stop-color="#e6d044"/><stop offset="0.063" stop-color="#6abca0"/><stop offset="0.092" stop-color="#1f8cd8"/><stop offset="0.141" stop-color="#1a68d8"/><stop offset="0.550" stop-color="#1a68d8"/><stop offset="0.750" stop-color="#2278da"/><stop offset="1" stop-color="#2452cc"/></linearGradient>
<rect x="408.9" y="68.4" width="6.1" height="64.8" fill="url(#pk1_2)"/>
<rect x="410.8" y="75.4" width="2.3" height="34.1" rx="1" fill="#30b4cc" opacity="0.5"/>
<linearGradient id="pk1_3" gradientUnits="userSpaceOnUse" x1="0" y1="67.6" x2="0" y2="125.0"><stop offset="0" stop-color="#f6e636"/><stop offset="0.031" stop-color="#e6d044"/><stop offset="0.063" stop-color="#6abca0"/><stop offset="0.091" stop-color="#1f8cd8"/><stop offset="0.139" stop-color="#1a68d8"/><stop offset="0.550" stop-color="#1a68d8"/><stop offset="0.750" stop-color="#2278da"/><stop offset="1" stop-color="#2452cc"/></linearGradient>
<rect x="414.3" y="66.6" width="6.1" height="65.4" fill="url(#pk1_3)"/>
<rect x="416.2" y="73.6" width="2.3" height="34.5" rx="1" fill="#30b4cc" opacity="0.5"/>
<linearGradient id="pk1_4" gradientUnits="userSpaceOnUse" x1="0" y1="65.5" x2="0" y2="123.7"><stop offset="0" stop-color="#f6e636"/><stop offset="0.031" stop-color="#e6d044"/><stop offset="0.062" stop-color="#6abca0"/><stop offset="0.089" stop-color="#1f8cd8"/><stop offset="0.137" stop-color="#1a68d8"/><stop offset="0.550" stop-color="#1a68d8"/><stop offset="0.750" stop-color="#2278da"/><stop offset="1" stop-color="#2452cc"/></linearGradient>
<rect x="419.8" y="64.5" width="6.1" height="66.2" fill="url(#pk1_4)"/>
<rect x="421.7" y="71.5" width="2.3" height="34.9" rx="1" fill="#30b4cc" opacity="0.5"/>
<linearGradient id="pk1_5" gradientUnits="userSpaceOnUse" x1="0" y1="64.8" x2="0" y2="122.5"><stop offset="0" stop-color="#f6e636"/><stop offset="0.031" stop-color="#e6d044"/><stop offset="0.062" stop-color="#6abca0"/><stop offset="0.090" stop-color="#1f8cd8"/><stop offset="0.139" stop-color="#1a68d8"/><stop offset="0.550" stop-color="#1a68d8"/><stop offset="0.750" stop-color="#2278da"/><stop offset="1" stop-color="#2452cc"/></linearGradient>
<rect x="425.3" y="63.8" width="6.1" height="65.6" fill="url(#pk1_5)"/>
<rect x="427.2" y="70.8" width="2.3" height="34.6" rx="1" fill="#30b4cc" opacity="0.5"/>
<linearGradient id="pk1_6" gradientUnits="userSpaceOnUse" x1="0" y1="57.2" x2="0" y2="121.2"><stop offset="0" stop-color="#f6e636"/><stop offset="0.028" stop-color="#e6d044"/><stop offset="0.056" stop-color="#6abca0"/><stop offset="0.081" stop-color="#1f8cd8"/><stop offset="0.125" stop-color="#1a68d8"/><stop offset="0.550" stop-color="#1a68d8"/><stop offset="0.750" stop-color="#2278da"/><stop offset="1" stop-color="#2452cc"/></linearGradient>
<rect x="430.7" y="56.2" width="6.1" height="72.0" fill="url(#pk1_6)"/>
<rect x="432.6" y="63.2" width="2.3" height="38.4" rx="1" fill="#30b4cc" opacity="0.5"/>
<linearGradient id="pk1_7" gradientUnits="userSpaceOnUse" x1="0" y1="63.0" x2="0" y2="120.0"><stop offset="0" stop-color="#f6e636"/><stop offset="0.032" stop-color="#e6d044"/><stop offset="0.063" stop-color="#6abca0"/><stop offset="0.091" stop-color="#1f8cd8"/><stop offset="0.140" stop-color="#1a68d8"/><stop offset="0.550" stop-color="#1a68d8"/><stop offset="0.750" stop-color="#2278da"/><stop offset="1" stop-color="#2452cc"/></linearGradient>
<rect x="436.2" y="62.0" width="6.1" height="65.0" fill="url(#pk1_7)"/>
<rect x="438.1" y="69.0" width="2.3" height="34.2" rx="1" fill="#30b4cc" opacity="0.5"/>
<linearGradient id="pk1_8" gradientUnits="userSpaceOnUse" x1="0" y1="61.1" x2="0" y2="118.7"><stop offset="0" stop-color="#f6e636"/><stop offset="0.031" stop-color="#e6d044"/><stop offset="0.062" stop-color="#6abca0"/><stop offset="0.090" stop-color="#1f8cd8"/><stop offset="0.139" stop-color="#1a68d8"/><stop offset="0.550" stop-color="#1a68d8"/><stop offset="0.750" stop-color="#2278da"/><stop offset="1" stop-color="#2452cc"/></linearGradient>
<rect x="441.7" y="60.1" width="6.1" height="65.6" fill="url(#pk1_8)"/>
<rect x="443.5" y="67.1" width="2.3" height="34.6" rx="1" fill="#30b4cc" opacity="0.5"/>
<linearGradient id="pk1_9" gradientUnits="userSpaceOnUse" x1="0" y1="59.8" x2="0" y2="117.5"><stop offset="0" stop-color="#f6e636"/><stop offset="0.031" stop-color="#e6d044"/><stop offset="0.062" stop-color="#6abca0"/><stop offset="0.090" stop-color="#1f8cd8"/><stop offset="0.139" stop-color="#1a68d8"/><stop offset="0.550" stop-color="#1a68d8"/><stop offset="0.750" stop-color="#2278da"/><stop offset="1" stop-color="#2452cc"/></linearGradient>
<rect x="447.1" y="58.8" width="6.1" height="65.7" fill="url(#pk1_9)"/>
<rect x="449.0" y="65.8" width="2.3" height="34.6" rx="1" fill="#30b4cc" opacity="0.5"/>
<linearGradient id="pk1_10" gradientUnits="userSpaceOnUse" x1="0" y1="59.8" x2="0" y2="116.2"><stop offset="0" stop-color="#f6e636"/><stop offset="0.032" stop-color="#e6d044"/><stop offset="0.064" stop-color="#6abca0"/><stop offset="0.092" stop-color="#1f8cd8"/><stop offset="0.142" stop-color="#1a68d8"/><stop offset="0.550" stop-color="#1a68d8"/><stop offset="0.750" stop-color="#2278da"/><stop offset="1" stop-color="#2452cc"/></linearGradient>
<rect x="452.6" y="58.8" width="6.1" height="64.4" fill="url(#pk1_10)"/>
<rect x="454.5" y="65.8" width="2.3" height="33.8" rx="1" fill="#30b4cc" opacity="0.5"/>
<linearGradient id="pk1_11" gradientUnits="userSpaceOnUse" x1="0" y1="57.9" x2="0" y2="115.0"><stop offset="0" stop-color="#f6e636"/><stop offset="0.032" stop-color="#e6d044"/><stop offset="0.063" stop-color="#6abca0"/><stop offset="0.091" stop-color="#1f8cd8"/><stop offset="0.140" stop-color="#1a68d8"/><stop offset="0.550" stop-color="#1a68d8"/><stop offset="0.750" stop-color="#2278da"/><stop offset="1" stop-color="#2452cc"/></linearGradient>
<rect x="458.0" y="56.9" width="6.1" height="65.0" fill="url(#pk1_11)"/>
<rect x="459.9" y="63.9" width="2.3" height="34.2" rx="1" fill="#30b4cc" opacity="0.5"/>
<linearGradient id="pk1_12" gradientUnits="userSpaceOnUse" x1="0" y1="58.5" x2="0" y2="113.7"><stop offset="0" stop-color="#f6e636"/><stop offset="0.033" stop-color="#e6d044"/><stop offset="0.065" stop-color="#6abca0"/><stop offset="0.094" stop-color="#1f8cd8"/><stop offset="0.145" stop-color="#1a68d8"/><stop offset="0.550" stop-color="#1a68d8"/><stop offset="0.750" stop-color="#2278da"/><stop offset="1" stop-color="#2452cc"/></linearGradient>
<rect x="463.5" y="57.5" width="8.8" height="63.2" fill="url(#pk1_12)"/>
<rect x="464.8" y="64.5" width="3.4" height="33.1" rx="1" fill="#30b4cc" opacity="0.5"/>
</g>
<polygon points="399.7,129.0 399.7,100.6 401.2,100.2 401.2,128.7" fill="#2682e2" />
<linearGradient id="gf1" gradientUnits="userSpaceOnUse" x1="399.7" y1="127.7" x2="424.9" y2="138.5"><stop offset="0" stop-color="#2e48bc"/><stop offset="1" stop-color="#383caa"/></linearGradient>
<polygon points="399.7,124.3 469.5,108.3 494.6,121.1 494.6,122.5 424.9,138.5 423.6,139.0 422.4,138.8 421.1,138.1 419.8,136.6 418.6,137.2 417.3,136.9 416.1,136.2 414.8,134.7 413.5,135.3 412.3,135.0 411.0,134.3 409.8,132.8 408.5,133.4 407.2,133.1 406.0,132.4 404.7,130.9 403.5,131.5 402.2,131.2 400.9,130.5 399.7,129.0" fill="url(#gf1)" />
<polygon points="398.3,128.0 400.6,112.1 401.4,111.9 403.7,126.8 407.6,129.9" fill="#2a58cc" opacity="0.7"/>
<polygon points="403.7,126.8 406.0,110.5 406.9,110.3 409.2,125.5 413.1,128.6" fill="#2a58cc" opacity="0.7"/>
<polygon points="409.2,125.5 411.5,109.3 412.3,109.1 414.6,124.3 418.5,127.4" fill="#2a58cc" opacity="0.7"/>
<polygon points="414.6,124.3 417.0,107.9 417.8,107.7 420.1,123.0 424.0,126.1" fill="#2a58cc" opacity="0.7"/>
<polygon points="420.1,123.0 422.4,106.4 423.2,106.2 425.6,121.7 429.4,124.9" fill="#2a58cc" opacity="0.7"/>
<polygon points="425.6,121.7 427.9,105.3 428.7,105.1 431.0,120.5 434.9,123.6" fill="#2a58cc" opacity="0.7"/>
<polygon points="431.0,120.5 433.3,102.1 434.2,101.9 436.5,119.2 440.4,122.3" fill="#2a58cc" opacity="0.7"/>
<polygon points="436.5,119.2 438.8,103.0 439.6,102.8 442.0,118.0 445.8,121.1" fill="#2a58cc" opacity="0.7"/>
<polygon points="442.0,118.0 444.3,101.5 445.1,101.3 447.4,116.7 451.3,119.8" fill="#2a58cc" opacity="0.7"/>
<polygon points="447.4,116.7 449.7,100.2 450.6,100.1 452.9,115.5 456.8,118.6" fill="#2a58cc" opacity="0.7"/>
<polygon points="452.9,115.5 455.2,99.4 456.0,99.2 458.3,114.2 462.2,117.3" fill="#2a58cc" opacity="0.7"/>
<polygon points="458.3,114.2 460.7,97.9 461.5,97.8 463.8,113.0 467.7,116.1" fill="#2a58cc" opacity="0.7"/>
<polygon points="463.8,113.0 466.1,97.2 466.9,97.1 469.3,111.7 473.1,114.8" fill="#2a58cc" opacity="0.7"/>
<linearGradient id="gw1" gradientUnits="userSpaceOnUse" x1="0" y1="115.5" x2="0" y2="130.7"><stop offset="0" stop-color="#1f74ea"/><stop offset="0.5" stop-color="#2462de"/><stop offset="0.55" stop-color="#3350c8"/><stop offset="1" stop-color="#3a44b8"/></linearGradient>
<polygon points="424.9,138.5 424.9,123.2 494.6,107.2 494.6,122.5" fill="url(#gw1)" />
<line x1="424.9" y1="123.2" x2="494.6" y2="107.2" stroke="#2a80ee" stroke-width="1.4"/>
<ellipse cx="434.4" cy="83.6" rx="16.9" ry="34.2" fill="none" stroke="#ee1020" stroke-width="2.5"/>
<line x1="406.2" y1="62.8" x2="413.6" y2="67.9" stroke="#000" stroke-width="2.2"/>
<polygon points="416.9,70.2 411.2,60.0 411.8,66.7 405.3,68.5" fill="#000" stroke="#000" stroke-width="0.8" stroke-linejoin="round"/></g>
<g id="sp2"><line x1="78.1" y1="271.9" x2="183.8" y2="248.4" stroke="#e2e2e2" stroke-width="0.9"/>
<line x1="183.8" y1="248.4" x2="264.2" y2="278.6" stroke="#e2e2e2" stroke-width="0.9"/>
<line x1="130.9" y1="293.2" x2="130.9" y2="227.2" stroke="#e2e2e2" stroke-width="0.9"/>
<line x1="224.0" y1="296.6" x2="224.0" y2="230.5" stroke="#e2e2e2" stroke-width="0.9"/>
<line x1="118.3" y1="320.1" x2="224.0" y2="296.6" stroke="#e2e2e2" stroke-width="0.9"/>
<line x1="211.3" y1="323.4" x2="130.9" y2="293.2" stroke="#e2e2e2" stroke-width="0.9"/>
<line x1="78.3" y1="238.9" x2="183.8" y2="215.4" stroke="#787878" stroke-width="1"/>
<line x1="183.8" y1="215.4" x2="264.2" y2="245.6" stroke="#787878" stroke-width="1"/>
<line x1="183.8" y1="215.4" x2="183.8" y2="281.5" stroke="#787878" stroke-width="1"/>
<line x1="264.2" y1="245.6" x2="264.2" y2="311.7" stroke="#787878" stroke-width="1"/>
<line x1="183.8" y1="281.5" x2="78.1" y2="305.0" stroke="#787878" stroke-width="1"/>
<line x1="78.3" y1="238.9" x2="78.1" y2="305.0" stroke="#4a4a4a" stroke-width="1"/>
<line x1="78.1" y1="305.0" x2="158.5" y2="335.2" stroke="#4a4a4a" stroke-width="1"/>
<line x1="158.5" y1="335.2" x2="264.2" y2="311.7" stroke="#4a4a4a" stroke-width="1"/>
<line x1="183.8" y1="281.5" x2="264.2" y2="311.7" stroke="#4a4a4a" stroke-width="1"/>
<line x1="78.3" y1="238.9" x2="76.3" y2="238.1" stroke="#4a4a4a" stroke-width="1"/>
<line x1="78.1" y1="305.0" x2="76.1" y2="304.5" stroke="#4a4a4a" stroke-width="1"/>
<line x1="78.1" y1="271.9" x2="76.1" y2="271.9" stroke="#4a4a4a" stroke-width="1"/>
<line x1="158.5" y1="335.2" x2="156.5" y2="335.2" stroke="#4a4a4a" stroke-width="1"/>
<line x1="264.2" y1="311.7" x2="266.2" y2="312.5" stroke="#4a4a4a" stroke-width="1"/>
<line x1="118.3" y1="320.1" x2="116.7" y2="320.9" stroke="#4a4a4a" stroke-width="1"/>
<line x1="211.3" y1="323.4" x2="211.8" y2="325.1" stroke="#4a4a4a" stroke-width="1"/>
<linearGradient id="gs2" gradientUnits="userSpaceOnUse" x1="120.1" y1="290.3" x2="116.1" y2="310.5"><stop offset="0" stop-color="#2262de"/><stop offset="0.3" stop-color="#2a54cc"/><stop offset="0.65" stop-color="#3348c0"/><stop offset="1" stop-color="#3a3ca8"/></linearGradient>
<polygon points="112.1,293.3 179.7,278.3 205.0,287.7 205.0,299.5 137.3,314.5 136.3,315.4 135.2,315.1 134.2,314.3 133.1,312.4 132.1,313.3 131.0,313.0 130.0,312.2 128.9,310.4 127.9,311.2 126.8,310.9 125.8,310.1 124.7,308.3 123.7,309.1 122.6,308.8 121.5,308.0 120.5,306.2 119.4,307.0 118.4,306.7 117.3,305.9 116.3,304.1 115.2,304.9 114.2,304.6 113.1,303.8 112.1,302.0" fill="url(#gs2)" />
<clipPath id="cl2"><polygon points="137.3,314.5 137.3,292.1 137.3,292.1 137.8,292.0 137.9,290.5 137.9,288.5 138.0,286.3 138.1,283.1 138.3,279.6 138.5,276.8 138.7,274.5 138.9,272.2 139.2,270.8 139.1,270.1 140.0,269.9 139.9,270.6 140.2,271.4 140.5,273.1 140.6,274.7 140.8,276.8 141.0,279.3 141.2,281.7 141.3,283.4 141.4,284.8 141.4,285.9 142.0,285.8 142.0,285.8 142.5,285.6 142.5,284.6 142.6,283.3 142.7,281.9 142.9,279.7 143.1,277.4 143.3,275.5 143.4,274.0 143.7,272.4 144.0,271.5 143.9,270.9 144.8,270.7 144.8,271.3 145.1,272.0 145.5,273.5 145.7,274.9 145.9,276.8 146.1,279.0 146.3,281.1 146.4,282.5 146.4,283.8 146.5,284.7 147.1,284.6 147.1,284.6 147.7,284.5 147.8,283.0 147.8,281.0 147.9,278.8 148.1,275.6 148.3,272.1 148.5,269.3 148.7,267.0 149.1,264.6 149.4,263.3 149.3,262.6 150.2,262.4 150.2,263.0 150.6,264.2 150.9,266.3 151.1,268.3 151.4,270.9 151.6,274.0 151.8,277.0 151.9,279.0 152.0,280.8 152.0,282.2 152.6,282.1 152.6,282.1 153.3,281.9 153.3,280.6 153.4,279.0 153.5,277.1 153.7,274.4 153.9,271.5 154.2,269.1 154.4,267.2 154.7,265.1 155.1,264.0 155.0,263.3 155.9,263.1 155.9,263.8 156.2,264.9 156.5,266.9 156.7,268.9 156.9,271.4 157.2,274.4 157.3,277.3 157.4,279.2 157.5,280.9 157.6,282.3 158.1,282.2 158.1,282.2 158.7,282.0 158.8,280.9 158.9,279.5 159.0,277.8 159.1,275.4 159.4,272.8 159.6,270.7 159.8,269.0 160.1,267.2 160.4,266.2 160.4,265.6 161.3,265.4 161.2,266.0 161.5,267.0 161.8,268.8 162.0,270.5 162.2,272.7 162.4,275.4 162.5,278.0 162.6,279.7 162.7,281.3 162.8,282.5 163.3,282.3 163.3,282.3 163.9,282.2 163.9,281.3 164.0,280.1 164.1,278.7 164.2,276.8 164.4,274.6 164.6,272.9 164.8,271.5 165.1,270.0 165.4,269.2 165.4,268.7 166.3,268.5 166.2,269.1 166.6,270.2 166.9,272.2 167.1,274.1 167.3,276.5 167.5,279.5 167.7,282.3 167.8,284.3 167.9,285.9 168.0,287.2 168.6,287.1 168.6,287.1 169.2,287.0 169.3,284.0 169.4,280.3 169.5,276.0 169.7,269.8 169.9,263.1 170.1,257.7 170.3,253.3 170.6,248.8 171.0,246.3 171.0,245.1 171.9,244.9 171.8,246.1 172.2,248.4 172.5,252.9 172.7,257.1 173.0,262.4 173.2,269.0 173.4,275.2 173.5,279.4 173.6,283.1 173.6,286.0 174.3,285.8 174.3,285.8 174.9,285.7 174.9,284.4 175.0,282.7 175.1,280.7 175.3,277.9 175.5,274.8 175.8,272.3 176.0,270.3 176.3,268.2 176.7,267.0 176.7,266.3 177.6,266.1 177.5,266.7 177.7,267.5 178.0,269.0 178.2,270.4 178.4,272.2 178.5,274.4 178.7,276.5 178.8,278.0 178.8,279.2 178.9,280.2 179.4,280.1 179.4,280.1 179.9,280.0 180.0,278.7 180.0,277.1 180.1,275.3 180.3,272.6 180.4,269.7 180.6,267.4 180.8,265.5 181.1,263.5 181.3,262.4 181.2,261.8 182.1,261.6 182.1,262.2 182.5,263.0 182.8,264.6 183.0,266.1 183.2,268.0 183.4,270.3 183.6,272.5 183.7,274.1 183.8,275.4 183.9,276.4 184.5,276.3 184.5,276.3 185.1,276.2 185.2,274.9 185.3,273.3 185.4,271.5 185.6,268.8 185.8,266.0 186.0,263.6 186.2,261.8 186.5,259.8 186.9,258.7 186.9,258.1 187.8,257.9 187.7,258.5 188.0,259.4 188.3,261.1 188.5,262.7 188.7,264.8 189.0,267.3 189.1,269.7 189.2,271.3 189.3,272.8 189.4,273.9 189.9,273.8 189.9,273.8 190.5,273.6 190.6,272.2 190.7,270.5 190.8,268.4 190.9,265.4 191.2,262.2 191.4,259.6 191.6,257.5 191.9,255.3 192.2,254.1 192.1,253.4 193.0,253.2 193.0,253.9 193.3,255.0 193.6,257.1 193.8,259.1 194.0,261.6 194.3,264.7 194.4,267.6 194.5,269.6 194.6,271.4 194.7,272.7 195.2,272.6 195.2,272.6 195.8,272.5 195.9,271.5 196.0,270.3 196.1,268.9 196.2,266.9 196.5,264.8 196.7,263.0 196.9,261.6 197.2,260.1 197.5,259.3 197.5,258.7 198.4,258.5 198.3,259.1 198.6,259.8 198.9,261.2 199.1,262.5 199.3,264.1 199.6,266.2 199.7,268.1 199.8,269.5 199.9,270.6 200.0,271.5 200.6,271.4 200.6,271.4 201.1,271.3 201.2,270.2 201.3,268.9 201.4,267.3 201.5,265.0 201.8,262.5 202.0,260.5 202.2,258.9 202.5,257.2 202.8,256.3 202.7,255.7 203.6,255.5 203.5,256.3 203.7,257.5 203.9,259.8 204.0,262.0 204.2,264.8 204.3,268.2 204.4,271.5 204.5,273.7 204.5,275.6 204.6,277.1 205.0,277.0 205.0,277.0 205.0,299.5"/></clipPath>
<polygon points="137.3,314.5 137.3,292.1 137.3,292.1 137.8,292.0 137.9,290.5 137.9,288.5 138.0,286.3 138.1,283.1 138.3,279.6 138.5,276.8 138.7,274.5 138.9,272.2 139.2,270.8 139.1,270.1 140.0,269.9 139.9,270.6 140.2,271.4 140.5,273.1 140.6,274.7 140.8,276.8 141.0,279.3 141.2,281.7 141.3,283.4 141.4,284.8 141.4,285.9 142.0,285.8 142.0,285.8 142.5,285.6 142.5,284.6 142.6,283.3 142.7,281.9 142.9,279.7 143.1,277.4 143.3,275.5 143.4,274.0 143.7,272.4 144.0,271.5 143.9,270.9 144.8,270.7 144.8,271.3 145.1,272.0 145.5,273.5 145.7,274.9 145.9,276.8 146.1,279.0 146.3,281.1 146.4,282.5 146.4,283.8 146.5,284.7 147.1,284.6 147.1,284.6 147.7,284.5 147.8,283.0 147.8,281.0 147.9,278.8 148.1,275.6 148.3,272.1 148.5,269.3 148.7,267.0 149.1,264.6 149.4,263.3 149.3,262.6 150.2,262.4 150.2,263.0 150.6,264.2 150.9,266.3 151.1,268.3 151.4,270.9 151.6,274.0 151.8,277.0 151.9,279.0 152.0,280.8 152.0,282.2 152.6,282.1 152.6,282.1 153.3,281.9 153.3,280.6 153.4,279.0 153.5,277.1 153.7,274.4 153.9,271.5 154.2,269.1 154.4,267.2 154.7,265.1 155.1,264.0 155.0,263.3 155.9,263.1 155.9,263.8 156.2,264.9 156.5,266.9 156.7,268.9 156.9,271.4 157.2,274.4 157.3,277.3 157.4,279.2 157.5,280.9 157.6,282.3 158.1,282.2 158.1,282.2 158.7,282.0 158.8,280.9 158.9,279.5 159.0,277.8 159.1,275.4 159.4,272.8 159.6,270.7 159.8,269.0 160.1,267.2 160.4,266.2 160.4,265.6 161.3,265.4 161.2,266.0 161.5,267.0 161.8,268.8 162.0,270.5 162.2,272.7 162.4,275.4 162.5,278.0 162.6,279.7 162.7,281.3 162.8,282.5 163.3,282.3 163.3,282.3 163.9,282.2 163.9,281.3 164.0,280.1 164.1,278.7 164.2,276.8 164.4,274.6 164.6,272.9 164.8,271.5 165.1,270.0 165.4,269.2 165.4,268.7 166.3,268.5 166.2,269.1 166.6,270.2 166.9,272.2 167.1,274.1 167.3,276.5 167.5,279.5 167.7,282.3 167.8,284.3 167.9,285.9 168.0,287.2 168.6,287.1 168.6,287.1 169.2,287.0 169.3,284.0 169.4,280.3 169.5,276.0 169.7,269.8 169.9,263.1 170.1,257.7 170.3,253.3 170.6,248.8 171.0,246.3 171.0,245.1 171.9,244.9 171.8,246.1 172.2,248.4 172.5,252.9 172.7,257.1 173.0,262.4 173.2,269.0 173.4,275.2 173.5,279.4 173.6,283.1 173.6,286.0 174.3,285.8 174.3,285.8 174.9,285.7 174.9,284.4 175.0,282.7 175.1,280.7 175.3,277.9 175.5,274.8 175.8,272.3 176.0,270.3 176.3,268.2 176.7,267.0 176.7,266.3 177.6,266.1 177.5,266.7 177.7,267.5 178.0,269.0 178.2,270.4 178.4,272.2 178.5,274.4 178.7,276.5 178.8,278.0 178.8,279.2 178.9,280.2 179.4,280.1 179.4,280.1 179.9,280.0 180.0,278.7 180.0,277.1 180.1,275.3 180.3,272.6 180.4,269.7 180.6,267.4 180.8,265.5 181.1,263.5 181.3,262.4 181.2,261.8 182.1,261.6 182.1,262.2 182.5,263.0 182.8,264.6 183.0,266.1 183.2,268.0 183.4,270.3 183.6,272.5 183.7,274.1 183.8,275.4 183.9,276.4 184.5,276.3 184.5,276.3 185.1,276.2 185.2,274.9 185.3,273.3 185.4,271.5 185.6,268.8 185.8,266.0 186.0,263.6 186.2,261.8 186.5,259.8 186.9,258.7 186.9,258.1 187.8,257.9 187.7,258.5 188.0,259.4 188.3,261.1 188.5,262.7 188.7,264.8 189.0,267.3 189.1,269.7 189.2,271.3 189.3,272.8 189.4,273.9 189.9,273.8 189.9,273.8 190.5,273.6 190.6,272.2 190.7,270.5 190.8,268.4 190.9,265.4 191.2,262.2 191.4,259.6 191.6,257.5 191.9,255.3 192.2,254.1 192.1,253.4 193.0,253.2 193.0,253.9 193.3,255.0 193.6,257.1 193.8,259.1 194.0,261.6 194.3,264.7 194.4,267.6 194.5,269.6 194.6,271.4 194.7,272.7 195.2,272.6 195.2,272.6 195.8,272.5 195.9,271.5 196.0,270.3 196.1,268.9 196.2,266.9 196.5,264.8 196.7,263.0 196.9,261.6 197.2,260.1 197.5,259.3 197.5,258.7 198.4,258.5 198.3,259.1 198.6,259.8 198.9,261.2 199.1,262.5 199.3,264.1 199.6,266.2 199.7,268.1 199.8,269.5 199.9,270.6 200.0,271.5 200.6,271.4 200.6,271.4 201.1,271.3 201.2,270.2 201.3,268.9 201.4,267.3 201.5,265.0 201.8,262.5 202.0,260.5 202.2,258.9 202.5,257.2 202.8,256.3 202.7,255.7 203.6,255.5 203.5,256.3 203.7,257.5 203.9,259.8 204.0,262.0 204.2,264.8 204.3,268.2 204.4,271.5 204.5,273.7 204.5,275.6 204.6,277.1 205.0,277.0 205.0,277.0 205.0,299.5" fill="#1a68d8" />
<g clip-path="url(#cl2)">
<linearGradient id="pk2_0" gradientUnits="userSpaceOnUse" x1="0" y1="270.3" x2="0" y2="314.1"><stop offset="0" stop-color="#f6e636"/><stop offset="0.041" stop-color="#e6d044"/><stop offset="0.082" stop-color="#6abca0"/><stop offset="0.119" stop-color="#1f8cd8"/><stop offset="0.183" stop-color="#1a68d8"/><stop offset="0.550" stop-color="#1a68d8"/><stop offset="0.750" stop-color="#1f6cd8"/><stop offset="1" stop-color="#2452cc"/></linearGradient>
<rect x="133.9" y="269.3" width="8.4" height="51.8" fill="url(#pk2_0)"/>
<rect x="137.9" y="289.3" width="3.3" height="19.7" rx="1" fill="#2f94e0" opacity="0.35"/>
<linearGradient id="pk2_1" gradientUnits="userSpaceOnUse" x1="0" y1="271.1" x2="0" y2="313.0"><stop offset="0" stop-color="#f6e636"/><stop offset="0.043" stop-color="#e6d044"/><stop offset="0.086" stop-color="#6abca0"/><stop offset="0.124" stop-color="#1f8cd8"/><stop offset="0.191" stop-color="#1a68d8"/><stop offset="0.550" stop-color="#1a68d8"/><stop offset="0.750" stop-color="#1f6cd8"/><stop offset="1" stop-color="#2452cc"/></linearGradient>
<rect x="141.7" y="270.1" width="5.7" height="49.9" fill="url(#pk2_1)"/>
<rect x="143.3" y="290.1" width="2.2" height="18.9" rx="1" fill="#2f94e0" opacity="0.35"/>
<linearGradient id="pk2_2" gradientUnits="userSpaceOnUse" x1="0" y1="262.7" x2="0" y2="311.8"><stop offset="0" stop-color="#f6e636"/><stop offset="0.037" stop-color="#e6d044"/><stop offset="0.073" stop-color="#6abca0"/><stop offset="0.106" stop-color="#1f8cd8"/><stop offset="0.163" stop-color="#1a68d8"/><stop offset="0.550" stop-color="#1a68d8"/><stop offset="0.750" stop-color="#1f6cd8"/><stop offset="1" stop-color="#2452cc"/></linearGradient>
<rect x="146.8" y="261.7" width="6.1" height="57.0" fill="url(#pk2_2)"/>
<rect x="148.6" y="281.7" width="2.3" height="22.1" rx="1" fill="#2f94e0" opacity="0.35"/>
<linearGradient id="pk2_3" gradientUnits="userSpaceOnUse" x1="0" y1="263.5" x2="0" y2="310.5"><stop offset="0" stop-color="#f6e636"/><stop offset="0.038" stop-color="#e6d044"/><stop offset="0.077" stop-color="#6abca0"/><stop offset="0.111" stop-color="#1f8cd8"/><stop offset="0.170" stop-color="#1a68d8"/><stop offset="0.550" stop-color="#1a68d8"/><stop offset="0.750" stop-color="#1f6cd8"/><stop offset="1" stop-color="#2452cc"/></linearGradient>
<rect x="152.3" y="262.5" width="6.1" height="55.0" fill="url(#pk2_3)"/>
<rect x="154.3" y="282.5" width="2.3" height="21.1" rx="1" fill="#2f94e0" opacity="0.35"/>
<linearGradient id="pk2_4" gradientUnits="userSpaceOnUse" x1="0" y1="265.8" x2="0" y2="309.3"><stop offset="0" stop-color="#f6e636"/><stop offset="0.041" stop-color="#e6d044"/><stop offset="0.083" stop-color="#6abca0"/><stop offset="0.119" stop-color="#1f8cd8"/><stop offset="0.184" stop-color="#1a68d8"/><stop offset="0.550" stop-color="#1a68d8"/><stop offset="0.750" stop-color="#1f6cd8"/><stop offset="1" stop-color="#2452cc"/></linearGradient>
<rect x="157.8" y="264.8" width="5.8" height="51.6" fill="url(#pk2_4)"/>
<rect x="159.7" y="284.8" width="2.2" height="19.6" rx="1" fill="#2f94e0" opacity="0.35"/>
<linearGradient id="pk2_5" gradientUnits="userSpaceOnUse" x1="0" y1="268.8" x2="0" y2="308.2"><stop offset="0" stop-color="#f6e636"/><stop offset="0.046" stop-color="#e6d044"/><stop offset="0.091" stop-color="#6abca0"/><stop offset="0.132" stop-color="#1f8cd8"/><stop offset="0.203" stop-color="#1a68d8"/><stop offset="0.550" stop-color="#1a68d8"/><stop offset="0.750" stop-color="#1f6cd8"/><stop offset="1" stop-color="#2452cc"/></linearGradient>
<rect x="163.0" y="267.8" width="5.9" height="47.4" fill="url(#pk2_5)"/>
<rect x="164.7" y="287.8" width="2.2" height="17.7" rx="1" fill="#2f94e0" opacity="0.35"/>
<linearGradient id="pk2_6" gradientUnits="userSpaceOnUse" x1="0" y1="245.3" x2="0" y2="307.0"><stop offset="0" stop-color="#f6e636"/><stop offset="0.029" stop-color="#e6d044"/><stop offset="0.058" stop-color="#6abca0"/><stop offset="0.084" stop-color="#1f8cd8"/><stop offset="0.130" stop-color="#1a68d8"/><stop offset="0.550" stop-color="#1a68d8"/><stop offset="0.750" stop-color="#1f6cd8"/><stop offset="1" stop-color="#2452cc"/></linearGradient>
<rect x="168.3" y="244.3" width="6.2" height="69.7" fill="url(#pk2_6)"/>
<rect x="170.2" y="264.3" width="2.4" height="27.8" rx="1" fill="#2f94e0" opacity="0.35"/>
<linearGradient id="pk2_7" gradientUnits="userSpaceOnUse" x1="0" y1="266.5" x2="0" y2="305.7"><stop offset="0" stop-color="#f6e636"/><stop offset="0.046" stop-color="#e6d044"/><stop offset="0.092" stop-color="#6abca0"/><stop offset="0.133" stop-color="#1f8cd8"/><stop offset="0.204" stop-color="#1a68d8"/><stop offset="0.550" stop-color="#1a68d8"/><stop offset="0.750" stop-color="#1f6cd8"/><stop offset="1" stop-color="#2452cc"/></linearGradient>
<rect x="174.0" y="265.5" width="5.7" height="47.2" fill="url(#pk2_7)"/>
<rect x="176.0" y="285.5" width="2.2" height="17.6" rx="1" fill="#2f94e0" opacity="0.35"/>
<linearGradient id="pk2_8" gradientUnits="userSpaceOnUse" x1="0" y1="262.0" x2="0" y2="304.7"><stop offset="0" stop-color="#f6e636"/><stop offset="0.042" stop-color="#e6d044"/><stop offset="0.084" stop-color="#6abca0"/><stop offset="0.122" stop-color="#1f8cd8"/><stop offset="0.187" stop-color="#1a68d8"/><stop offset="0.550" stop-color="#1a68d8"/><stop offset="0.750" stop-color="#1f6cd8"/><stop offset="1" stop-color="#2452cc"/></linearGradient>
<rect x="179.1" y="261.0" width="5.7" height="50.7" fill="url(#pk2_8)"/>
<rect x="180.6" y="281.0" width="2.1" height="19.2" rx="1" fill="#2f94e0" opacity="0.35"/>
<linearGradient id="pk2_9" gradientUnits="userSpaceOnUse" x1="0" y1="258.2" x2="0" y2="303.4"><stop offset="0" stop-color="#f6e636"/><stop offset="0.040" stop-color="#e6d044"/><stop offset="0.080" stop-color="#6abca0"/><stop offset="0.115" stop-color="#1f8cd8"/><stop offset="0.177" stop-color="#1a68d8"/><stop offset="0.550" stop-color="#1a68d8"/><stop offset="0.750" stop-color="#1f6cd8"/><stop offset="1" stop-color="#2452cc"/></linearGradient>
<rect x="184.2" y="257.2" width="6.0" height="53.2" fill="url(#pk2_9)"/>
<rect x="186.2" y="277.2" width="2.3" height="20.3" rx="1" fill="#2f94e0" opacity="0.35"/>
<linearGradient id="pk2_10" gradientUnits="userSpaceOnUse" x1="0" y1="253.6" x2="0" y2="302.3"><stop offset="0" stop-color="#f6e636"/><stop offset="0.037" stop-color="#e6d044"/><stop offset="0.074" stop-color="#6abca0"/><stop offset="0.107" stop-color="#1f8cd8"/><stop offset="0.164" stop-color="#1a68d8"/><stop offset="0.550" stop-color="#1a68d8"/><stop offset="0.750" stop-color="#1f6cd8"/><stop offset="1" stop-color="#2452cc"/></linearGradient>
<rect x="189.6" y="252.6" width="5.9" height="56.6" fill="url(#pk2_10)"/>
<rect x="191.5" y="272.6" width="2.2" height="21.9" rx="1" fill="#2f94e0" opacity="0.35"/>
<linearGradient id="pk2_11" gradientUnits="userSpaceOnUse" x1="0" y1="258.9" x2="0" y2="301.1"><stop offset="0" stop-color="#f6e636"/><stop offset="0.043" stop-color="#e6d044"/><stop offset="0.085" stop-color="#6abca0"/><stop offset="0.123" stop-color="#1f8cd8"/><stop offset="0.190" stop-color="#1a68d8"/><stop offset="0.550" stop-color="#1a68d8"/><stop offset="0.750" stop-color="#1f6cd8"/><stop offset="1" stop-color="#2452cc"/></linearGradient>
<rect x="194.9" y="257.9" width="5.9" height="50.2" fill="url(#pk2_11)"/>
<rect x="196.8" y="277.9" width="2.2" height="19.0" rx="1" fill="#2f94e0" opacity="0.35"/>
<linearGradient id="pk2_12" gradientUnits="userSpaceOnUse" x1="0" y1="255.9" x2="0" y2="299.9"><stop offset="0" stop-color="#f6e636"/><stop offset="0.041" stop-color="#e6d044"/><stop offset="0.082" stop-color="#6abca0"/><stop offset="0.118" stop-color="#1f8cd8"/><stop offset="0.182" stop-color="#1a68d8"/><stop offset="0.550" stop-color="#1a68d8"/><stop offset="0.750" stop-color="#1f6cd8"/><stop offset="1" stop-color="#2452cc"/></linearGradient>
<rect x="200.3" y="254.9" width="8.6" height="52.0" fill="url(#pk2_12)"/>
<rect x="201.5" y="274.9" width="3.3" height="19.8" rx="1" fill="#2f94e0" opacity="0.35"/>
</g>
<polygon points="137.3,314.5 137.3,292.1 138.8,291.7 138.8,314.2" fill="#2274de" />
<linearGradient id="gf2" gradientUnits="userSpaceOnUse" x1="137.3" y1="313.2" x2="162.6" y2="324.0"><stop offset="0" stop-color="#2e48bc"/><stop offset="1" stop-color="#383caa"/></linearGradient>
<polygon points="137.3,309.9 205.0,294.9 230.2,307.7 230.2,309.0 162.6,324.0 161.3,324.9 160.0,324.7 158.8,324.0 157.5,322.1 156.3,323.0 155.0,322.8 153.7,322.1 152.5,320.2 151.2,321.1 149.9,320.9 148.7,320.2 147.4,318.3 146.2,319.2 144.9,319.0 143.6,318.3 142.4,316.4 141.1,317.3 139.9,317.1 138.6,316.4 137.3,314.5" fill="url(#gf2)" />
<polygon points="136.8,313.3 139.1,302.0 139.9,301.8 142.2,312.2 145.9,315.2" fill="#2a58cc" opacity="0.7"/>
<polygon points="141.7,312.2 144.0,301.4 144.8,301.2 147.1,311.1 150.8,314.1" fill="#2a58cc" opacity="0.7"/>
<polygon points="147.1,311.0 149.4,298.1 150.2,297.9 152.5,309.9 156.2,312.9" fill="#2a58cc" opacity="0.7"/>
<polygon points="152.8,309.8 155.1,297.4 155.9,297.2 158.1,308.6 161.9,311.6" fill="#2a58cc" opacity="0.7"/>
<polygon points="158.1,308.6 160.4,297.3 161.2,297.1 163.5,307.4 167.2,310.4" fill="#2a58cc" opacity="0.7"/>
<polygon points="163.1,307.5 165.4,297.4 166.2,297.2 168.5,306.3 172.2,309.3" fill="#2a58cc" opacity="0.7"/>
<polygon points="168.7,306.2 171.0,289.5 171.8,289.3 174.1,305.1 177.8,308.1" fill="#2a58cc" opacity="0.7"/>
<polygon points="174.4,305.0 176.7,295.0 177.5,294.8 179.8,303.8 183.5,306.8" fill="#2a58cc" opacity="0.7"/>
<polygon points="179.0,304.0 181.3,292.9 182.1,292.7 184.4,302.8 188.1,305.8" fill="#2a58cc" opacity="0.7"/>
<polygon points="184.6,302.7 186.9,290.9 187.7,290.7 190.0,301.5 193.7,304.5" fill="#2a58cc" opacity="0.7"/>
<polygon points="189.9,301.5 192.2,288.7 193.0,288.5 195.3,300.3 199.0,303.4" fill="#2a58cc" opacity="0.7"/>
<polygon points="195.2,300.3 197.5,289.4 198.3,289.3 200.6,299.2 204.3,302.2" fill="#2a58cc" opacity="0.7"/>
<polygon points="200.5,299.2 202.8,287.7 203.6,287.5 205.9,298.0 209.6,301.0" fill="#2a58cc" opacity="0.7"/>
<polygon points="158.6,322.5 158.6,309.8 159.7,307.8 160.8,306.8 161.9,307.3 163.1,308.8 164.2,310.1 165.3,310.4 166.4,309.7 167.6,308.7 168.7,308.0 169.8,308.0 171.0,308.2 172.1,308.5 173.2,308.6 174.3,308.4 175.5,308.0 176.6,307.0 177.7,305.8 178.8,304.7 180.0,304.5 181.1,305.2 182.2,306.2 183.4,306.4 184.5,305.4 185.6,303.5 186.7,301.8 187.9,301.3 189.0,302.1 190.1,303.4 191.2,304.4 192.4,304.4 193.5,303.9 194.6,303.2 195.8,302.7 196.9,302.5 198.0,302.4 199.1,302.4 200.3,302.5 201.4,302.4 202.5,301.7 203.7,300.3 204.8,298.5 205.9,297.5 207.0,297.7 208.2,299.0 209.3,300.2 210.4,300.4 211.5,299.3 212.7,297.6 213.8,296.5 214.9,296.4 216.1,297.2 217.2,298.1 218.3,298.5 219.4,298.4 220.6,298.0 221.7,297.4 222.8,296.7 223.9,296.1 225.1,295.8 226.2,296.0 226.2,307.5" fill="#2a5cd8" />
<linearGradient id="gw2" gradientUnits="userSpaceOnUse" x1="0" y1="305.3" x2="0" y2="316.5"><stop offset="0" stop-color="#3448c8"/><stop offset="1" stop-color="#3840ba"/></linearGradient>
<polygon points="162.6,324.0 162.6,312.8 230.2,297.8 230.2,309.0" fill="url(#gw2)" />
<line x1="162.6" y1="312.8" x2="230.2" y2="297.8" stroke="#2c7cea" stroke-width="1.4"/>
<ellipse cx="171.6" cy="271" rx="16.7" ry="33.8" fill="none" stroke="#ee1020" stroke-width="2.5"/>
<line x1="143.1" y1="253.8" x2="150.6" y2="259.1" stroke="#000" stroke-width="2.2"/>
<polygon points="153.9,261.4 148.3,251.1 148.8,257.8 142.3,259.6" fill="#000" stroke="#000" stroke-width="0.8" stroke-linejoin="round"/></g>
<g id="sp3"><line x1="338.1" y1="268.9" x2="444.0" y2="246.0" stroke="#e2e2e2" stroke-width="0.9"/>
<line x1="444.0" y1="246.0" x2="524.7" y2="276.2" stroke="#e2e2e2" stroke-width="0.9"/>
<line x1="391.1" y1="289.9" x2="391.1" y2="225.0" stroke="#e2e2e2" stroke-width="0.9"/>
<line x1="484.4" y1="293.5" x2="484.4" y2="228.6" stroke="#e2e2e2" stroke-width="0.9"/>
<line x1="378.5" y1="316.4" x2="484.4" y2="293.5" stroke="#e2e2e2" stroke-width="0.9"/>
<line x1="471.8" y1="320.1" x2="391.1" y2="289.9" stroke="#e2e2e2" stroke-width="0.9"/>
<line x1="338.3" y1="236.4" x2="444.0" y2="213.5" stroke="#787878" stroke-width="1"/>
<line x1="444.0" y1="213.5" x2="524.7" y2="243.7" stroke="#787878" stroke-width="1"/>
<line x1="444.0" y1="213.5" x2="444.0" y2="278.4" stroke="#787878" stroke-width="1"/>
<line x1="524.7" y1="243.7" x2="524.7" y2="308.6" stroke="#787878" stroke-width="1"/>
<line x1="444.0" y1="278.4" x2="338.1" y2="301.3" stroke="#787878" stroke-width="1"/>
<line x1="338.3" y1="236.4" x2="338.1" y2="301.3" stroke="#4a4a4a" stroke-width="1"/>
<line x1="338.1" y1="301.3" x2="418.8" y2="331.5" stroke="#4a4a4a" stroke-width="1"/>
<line x1="418.8" y1="331.5" x2="524.7" y2="308.6" stroke="#4a4a4a" stroke-width="1"/>
<line x1="444.0" y1="278.4" x2="524.7" y2="308.6" stroke="#4a4a4a" stroke-width="1"/>
<line x1="338.3" y1="236.4" x2="336.3" y2="235.6" stroke="#4a4a4a" stroke-width="1"/>
<line x1="338.1" y1="301.3" x2="336.1" y2="300.8" stroke="#4a4a4a" stroke-width="1"/>
<line x1="338.1" y1="268.9" x2="336.1" y2="268.9" stroke="#4a4a4a" stroke-width="1"/>
<line x1="418.8" y1="331.5" x2="416.8" y2="331.5" stroke="#4a4a4a" stroke-width="1"/>
<line x1="524.7" y1="308.6" x2="526.7" y2="309.4" stroke="#4a4a4a" stroke-width="1"/>
<line x1="378.5" y1="316.4" x2="376.9" y2="317.2" stroke="#4a4a4a" stroke-width="1"/>
<line x1="471.8" y1="320.1" x2="472.2" y2="321.7" stroke="#4a4a4a" stroke-width="1"/>
<linearGradient id="gs3" gradientUnits="userSpaceOnUse" x1="379.1" y1="288.3" x2="375.1" y2="307.5"><stop offset="0" stop-color="#2262de"/><stop offset="0.3" stop-color="#2a54cc"/><stop offset="0.65" stop-color="#3348c0"/><stop offset="1" stop-color="#3a3ca8"/></linearGradient>
<polygon points="371.1,291.3 440.2,276.4 465.6,285.9 465.6,296.6 396.5,311.5 395.4,312.5 394.3,312.3 393.3,311.7 392.2,309.9 391.2,310.9 390.1,310.7 389.1,310.0 388.0,308.3 387.0,309.2 385.9,309.0 384.8,308.4 383.8,306.6 382.7,307.6 381.7,307.4 380.6,306.8 379.6,305.0 378.5,305.9 377.4,305.8 376.4,305.1 375.3,303.4 374.3,304.3 373.2,304.1 372.2,303.5 371.1,301.7" fill="url(#gs3)" />
<clipPath id="cl3"><polygon points="396.5,311.5 396.5,291.1 396.5,291.1 396.5,291.1 396.5,290.8 396.6,290.4 396.7,289.9 396.8,289.1 397.0,288.1 397.2,287.2 397.4,286.2 397.6,284.8 397.9,283.5 397.8,281.8 398.7,281.6 398.9,281.9 399.3,281.9 399.8,281.9 400.1,281.9 400.4,281.9 400.7,281.9 401.0,281.9 401.1,281.9 401.2,281.9 401.3,281.9 401.3,281.9 401.3,281.9 401.3,281.9 401.4,281.4 401.5,280.7 401.7,279.8 401.9,278.5 402.2,276.8 402.6,275.1 402.9,273.5 403.3,271.0 403.8,268.7 403.9,265.8 404.8,265.7 405.0,267.7 405.5,269.1 405.9,270.6 406.2,271.6 406.5,272.7 406.9,273.8 407.1,274.6 407.3,275.2 407.4,275.6 407.5,275.9 407.5,275.9 407.5,275.9 407.5,275.9 407.6,275.1 407.7,274.1 407.8,272.8 408.1,270.8 408.4,268.3 408.7,265.8 409.0,263.4 409.5,259.8 409.9,256.4 410.1,252.2 411.0,252.0 411.1,256.1 411.6,259.3 412.0,262.6 412.3,264.9 412.6,267.2 412.9,269.6 413.1,271.5 413.3,272.7 413.4,273.7 413.5,274.4 413.5,274.4 413.5,274.4 413.5,274.4 413.6,274.2 413.7,273.8 413.9,273.4 414.1,272.8 414.4,272.0 414.7,271.2 415.0,270.4 415.4,269.2 415.9,268.1 416.0,266.6 416.9,266.4 417.3,268.9 418.0,270.8 418.7,272.8 419.1,274.1 419.5,275.5 420.0,276.9 420.3,278.0 420.6,278.7 420.7,279.3 420.9,279.7 420.9,279.7 420.9,279.7 420.9,279.7 421.0,279.2 421.2,278.4 421.4,277.5 421.7,276.1 422.2,274.3 422.6,272.6 423.1,270.8 423.7,268.3 424.4,265.9 424.8,262.8 425.7,262.6 425.9,265.4 426.3,267.5 426.8,269.7 427.1,271.2 427.4,272.7 427.7,274.2 428.0,275.5 428.1,276.3 428.2,276.9 428.3,277.4 428.3,277.4 428.3,277.4 428.3,277.4 428.4,276.3 428.5,274.8 428.7,272.9 428.9,270.0 429.3,266.3 429.6,262.7 429.9,259.2 430.3,254.1 430.8,249.1 431.0,243.1 431.9,242.9 432.0,248.9 432.5,253.8 432.9,258.8 433.2,262.3 433.5,265.8 433.8,269.3 434.1,272.2 434.2,274.0 434.3,275.5 434.4,276.6 434.4,276.6 434.4,276.6 434.4,276.6 434.5,276.1 434.6,275.4 434.8,274.5 435.0,273.1 435.3,271.5 435.6,269.8 435.9,268.2 436.4,265.8 436.8,263.5 437.0,260.6 437.9,260.4 438.3,263.3 439.0,265.5 439.6,267.8 440.1,269.4 440.5,271.0 441.0,272.6 441.3,273.9 441.5,274.7 441.7,275.4 441.8,275.9 441.8,275.9 441.8,275.9 441.8,275.9 442.0,275.3 442.1,274.6 442.4,273.7 442.7,272.3 443.1,270.5 443.6,268.8 444.0,267.0 444.7,264.5 445.3,262.1 445.8,259.1 446.7,258.9 446.8,261.1 447.3,262.8 447.7,264.5 448.0,265.7 448.3,266.9 448.6,268.1 448.9,269.1 449.0,269.7 449.2,270.2 449.2,270.6 449.2,270.6 449.2,270.6 449.2,270.6 449.3,269.7 449.5,268.5 449.6,267.0 449.8,264.7 450.1,261.8 450.5,258.9 450.8,256.1 451.2,251.9 451.7,248.0 451.8,243.2 452.7,243.0 452.9,247.0 453.3,250.2 453.8,253.5 454.1,255.8 454.4,258.1 454.7,260.5 454.9,262.4 455.1,263.6 455.2,264.5 455.3,265.3 455.3,265.3 455.3,265.3 455.3,265.3 455.4,264.9 455.5,264.5 455.6,263.9 455.9,263.0 456.2,261.9 456.5,260.8 456.8,259.7 457.2,258.1 457.7,256.6 457.8,254.6 458.7,254.4 458.9,257.9 459.3,260.7 459.7,263.5 460.0,265.5 460.3,267.5 460.5,269.5 460.8,271.1 460.9,272.2 461.0,273.0 461.1,273.6 461.1,273.6 461.1,273.6 461.1,273.6 461.2,273.3 461.3,273.0 461.4,272.5 461.7,271.8 461.9,270.9 462.2,270.1 462.5,269.2 462.9,268.0 463.4,266.8 463.5,265.2 464.4,265.0 464.2,267.2 464.5,268.7 464.7,270.4 464.9,271.5 465.1,272.6 465.2,273.8 465.4,274.7 465.4,275.3 465.5,275.8 465.6,276.1 465.6,276.1 465.6,276.1 465.6,296.6"/></clipPath>
<polygon points="396.5,311.5 396.5,291.1 396.5,291.1 396.5,291.1 396.5,290.8 396.6,290.4 396.7,289.9 396.8,289.1 397.0,288.1 397.2,287.2 397.4,286.2 397.6,284.8 397.9,283.5 397.8,281.8 398.7,281.6 398.9,281.9 399.3,281.9 399.8,281.9 400.1,281.9 400.4,281.9 400.7,281.9 401.0,281.9 401.1,281.9 401.2,281.9 401.3,281.9 401.3,281.9 401.3,281.9 401.3,281.9 401.4,281.4 401.5,280.7 401.7,279.8 401.9,278.5 402.2,276.8 402.6,275.1 402.9,273.5 403.3,271.0 403.8,268.7 403.9,265.8 404.8,265.7 405.0,267.7 405.5,269.1 405.9,270.6 406.2,271.6 406.5,272.7 406.9,273.8 407.1,274.6 407.3,275.2 407.4,275.6 407.5,275.9 407.5,275.9 407.5,275.9 407.5,275.9 407.6,275.1 407.7,274.1 407.8,272.8 408.1,270.8 408.4,268.3 408.7,265.8 409.0,263.4 409.5,259.8 409.9,256.4 410.1,252.2 411.0,252.0 411.1,256.1 411.6,259.3 412.0,262.6 412.3,264.9 412.6,267.2 412.9,269.6 413.1,271.5 413.3,272.7 413.4,273.7 413.5,274.4 413.5,274.4 413.5,274.4 413.5,274.4 413.6,274.2 413.7,273.8 413.9,273.4 414.1,272.8 414.4,272.0 414.7,271.2 415.0,270.4 415.4,269.2 415.9,268.1 416.0,266.6 416.9,266.4 417.3,268.9 418.0,270.8 418.7,272.8 419.1,274.1 419.5,275.5 420.0,276.9 420.3,278.0 420.6,278.7 420.7,279.3 420.9,279.7 420.9,279.7 420.9,279.7 420.9,279.7 421.0,279.2 421.2,278.4 421.4,277.5 421.7,276.1 422.2,274.3 422.6,272.6 423.1,270.8 423.7,268.3 424.4,265.9 424.8,262.8 425.7,262.6 425.9,265.4 426.3,267.5 426.8,269.7 427.1,271.2 427.4,272.7 427.7,274.2 428.0,275.5 428.1,276.3 428.2,276.9 428.3,277.4 428.3,277.4 428.3,277.4 428.3,277.4 428.4,276.3 428.5,274.8 428.7,272.9 428.9,270.0 429.3,266.3 429.6,262.7 429.9,259.2 430.3,254.1 430.8,249.1 431.0,243.1 431.9,242.9 432.0,248.9 432.5,253.8 432.9,258.8 433.2,262.3 433.5,265.8 433.8,269.3 434.1,272.2 434.2,274.0 434.3,275.5 434.4,276.6 434.4,276.6 434.4,276.6 434.4,276.6 434.5,276.1 434.6,275.4 434.8,274.5 435.0,273.1 435.3,271.5 435.6,269.8 435.9,268.2 436.4,265.8 436.8,263.5 437.0,260.6 437.9,260.4 438.3,263.3 439.0,265.5 439.6,267.8 440.1,269.4 440.5,271.0 441.0,272.6 441.3,273.9 441.5,274.7 441.7,275.4 441.8,275.9 441.8,275.9 441.8,275.9 441.8,275.9 442.0,275.3 442.1,274.6 442.4,273.7 442.7,272.3 443.1,270.5 443.6,268.8 444.0,267.0 444.7,264.5 445.3,262.1 445.8,259.1 446.7,258.9 446.8,261.1 447.3,262.8 447.7,264.5 448.0,265.7 448.3,266.9 448.6,268.1 448.9,269.1 449.0,269.7 449.2,270.2 449.2,270.6 449.2,270.6 449.2,270.6 449.2,270.6 449.3,269.7 449.5,268.5 449.6,267.0 449.8,264.7 450.1,261.8 450.5,258.9 450.8,256.1 451.2,251.9 451.7,248.0 451.8,243.2 452.7,243.0 452.9,247.0 453.3,250.2 453.8,253.5 454.1,255.8 454.4,258.1 454.7,260.5 454.9,262.4 455.1,263.6 455.2,264.5 455.3,265.3 455.3,265.3 455.3,265.3 455.3,265.3 455.4,264.9 455.5,264.5 455.6,263.9 455.9,263.0 456.2,261.9 456.5,260.8 456.8,259.7 457.2,258.1 457.7,256.6 457.8,254.6 458.7,254.4 458.9,257.9 459.3,260.7 459.7,263.5 460.0,265.5 460.3,267.5 460.5,269.5 460.8,271.1 460.9,272.2 461.0,273.0 461.1,273.6 461.1,273.6 461.1,273.6 461.1,273.6 461.2,273.3 461.3,273.0 461.4,272.5 461.7,271.8 461.9,270.9 462.2,270.1 462.5,269.2 462.9,268.0 463.4,266.8 463.5,265.2 464.4,265.0 464.2,267.2 464.5,268.7 464.7,270.4 464.9,271.5 465.1,272.6 465.2,273.8 465.4,274.7 465.4,275.3 465.5,275.8 465.6,276.1 465.6,276.1 465.6,276.1 465.6,296.6" fill="#1a68d8" />
<g clip-path="url(#cl3)">
<linearGradient id="pk3_0" gradientUnits="userSpaceOnUse" x1="0" y1="281.9" x2="0" y2="311.1"><stop offset="0" stop-color="#58b0b8"/><stop offset="0.062" stop-color="#3c9ccc"/><stop offset="0.123" stop-color="#6abca0"/><stop offset="0.178" stop-color="#1f8cd8"/><stop offset="0.274" stop-color="#1a68d8"/><stop offset="0.550" stop-color="#1a68d8"/><stop offset="0.750" stop-color="#1f6cd8"/><stop offset="1" stop-color="#2452cc"/></linearGradient>
<rect x="391.4" y="280.9" width="10.2" height="37.2" fill="url(#pk3_0)"/>
<rect x="396.2" y="300.9" width="4.0" height="13.1" rx="1" fill="#2f94e0" opacity="0.35"/>
<linearGradient id="pk3_1" gradientUnits="userSpaceOnUse" x1="0" y1="266.0" x2="0" y2="309.8"><stop offset="0" stop-color="#f6e636"/><stop offset="0.041" stop-color="#e6d044"/><stop offset="0.082" stop-color="#6abca0"/><stop offset="0.119" stop-color="#1f8cd8"/><stop offset="0.183" stop-color="#1a68d8"/><stop offset="0.550" stop-color="#1a68d8"/><stop offset="0.750" stop-color="#1f6cd8"/><stop offset="1" stop-color="#2452cc"/></linearGradient>
<rect x="401.0" y="265.0" width="6.7" height="51.8" fill="url(#pk3_1)"/>
<rect x="403.1" y="285.0" width="2.6" height="19.7" rx="1" fill="#2f94e0" opacity="0.35"/>
<linearGradient id="pk3_2" gradientUnits="userSpaceOnUse" x1="0" y1="252.3" x2="0" y2="308.5"><stop offset="0" stop-color="#f6e636"/><stop offset="0.032" stop-color="#e6d044"/><stop offset="0.064" stop-color="#6abca0"/><stop offset="0.093" stop-color="#1f8cd8"/><stop offset="0.143" stop-color="#1a68d8"/><stop offset="0.550" stop-color="#1a68d8"/><stop offset="0.750" stop-color="#1f6cd8"/><stop offset="1" stop-color="#2452cc"/></linearGradient>
<rect x="407.2" y="251.3" width="6.6" height="64.1" fill="url(#pk3_2)"/>
<rect x="409.3" y="271.3" width="2.5" height="25.3" rx="1" fill="#2f94e0" opacity="0.35"/>
<linearGradient id="pk3_3" gradientUnits="userSpaceOnUse" x1="0" y1="266.8" x2="0" y2="307.2"><stop offset="0" stop-color="#f6e636"/><stop offset="0.045" stop-color="#e6d044"/><stop offset="0.089" stop-color="#6abca0"/><stop offset="0.129" stop-color="#1f8cd8"/><stop offset="0.198" stop-color="#1a68d8"/><stop offset="0.550" stop-color="#1a68d8"/><stop offset="0.750" stop-color="#1f6cd8"/><stop offset="1" stop-color="#2452cc"/></linearGradient>
<rect x="413.2" y="265.8" width="8.0" height="48.4" fill="url(#pk3_3)"/>
<rect x="414.9" y="285.8" width="3.1" height="18.2" rx="1" fill="#2f94e0" opacity="0.35"/>
<linearGradient id="pk3_4" gradientUnits="userSpaceOnUse" x1="0" y1="263.0" x2="0" y2="305.3"><stop offset="0" stop-color="#f6e636"/><stop offset="0.043" stop-color="#e6d044"/><stop offset="0.085" stop-color="#6abca0"/><stop offset="0.123" stop-color="#1f8cd8"/><stop offset="0.189" stop-color="#1a68d8"/><stop offset="0.550" stop-color="#1a68d8"/><stop offset="0.750" stop-color="#1f6cd8"/><stop offset="1" stop-color="#2452cc"/></linearGradient>
<rect x="420.6" y="262.0" width="8.1" height="50.3" fill="url(#pk3_4)"/>
<rect x="423.7" y="282.0" width="3.1" height="19.0" rx="1" fill="#2f94e0" opacity="0.35"/>
<linearGradient id="pk3_5" gradientUnits="userSpaceOnUse" x1="0" y1="243.3" x2="0" y2="304.0"><stop offset="0" stop-color="#f6e636"/><stop offset="0.030" stop-color="#e6d044"/><stop offset="0.059" stop-color="#6abca0"/><stop offset="0.086" stop-color="#1f8cd8"/><stop offset="0.132" stop-color="#1a68d8"/><stop offset="0.550" stop-color="#1a68d8"/><stop offset="0.750" stop-color="#1f6cd8"/><stop offset="1" stop-color="#2452cc"/></linearGradient>
<rect x="428.0" y="242.3" width="6.7" height="68.7" fill="url(#pk3_5)"/>
<rect x="430.1" y="262.3" width="2.6" height="27.3" rx="1" fill="#2f94e0" opacity="0.35"/>
<linearGradient id="pk3_6" gradientUnits="userSpaceOnUse" x1="0" y1="260.7" x2="0" y2="302.7"><stop offset="0" stop-color="#f6e636"/><stop offset="0.043" stop-color="#e6d044"/><stop offset="0.086" stop-color="#6abca0"/><stop offset="0.124" stop-color="#1f8cd8"/><stop offset="0.191" stop-color="#1a68d8"/><stop offset="0.550" stop-color="#1a68d8"/><stop offset="0.750" stop-color="#1f6cd8"/><stop offset="1" stop-color="#2452cc"/></linearGradient>
<rect x="434.1" y="259.7" width="8.0" height="49.9" fill="url(#pk3_6)"/>
<rect x="435.9" y="279.7" width="3.1" height="18.9" rx="1" fill="#2f94e0" opacity="0.35"/>
<linearGradient id="pk3_7" gradientUnits="userSpaceOnUse" x1="0" y1="259.2" x2="0" y2="300.8"><stop offset="0" stop-color="#f6e636"/><stop offset="0.043" stop-color="#e6d044"/><stop offset="0.087" stop-color="#6abca0"/><stop offset="0.125" stop-color="#1f8cd8"/><stop offset="0.193" stop-color="#1a68d8"/><stop offset="0.550" stop-color="#1a68d8"/><stop offset="0.750" stop-color="#1f6cd8"/><stop offset="1" stop-color="#2452cc"/></linearGradient>
<rect x="441.5" y="258.2" width="8.0" height="49.5" fill="url(#pk3_7)"/>
<rect x="444.7" y="278.2" width="3.1" height="18.7" rx="1" fill="#2f94e0" opacity="0.35"/>
<linearGradient id="pk3_8" gradientUnits="userSpaceOnUse" x1="0" y1="243.3" x2="0" y2="299.5"><stop offset="0" stop-color="#f6e636"/><stop offset="0.032" stop-color="#e6d044"/><stop offset="0.064" stop-color="#6abca0"/><stop offset="0.093" stop-color="#1f8cd8"/><stop offset="0.143" stop-color="#1a68d8"/><stop offset="0.550" stop-color="#1a68d8"/><stop offset="0.750" stop-color="#1f6cd8"/><stop offset="1" stop-color="#2452cc"/></linearGradient>
<rect x="448.9" y="242.3" width="6.6" height="64.1" fill="url(#pk3_8)"/>
<rect x="451.0" y="262.3" width="2.5" height="25.3" rx="1" fill="#2f94e0" opacity="0.35"/>
<linearGradient id="pk3_9" gradientUnits="userSpaceOnUse" x1="0" y1="254.7" x2="0" y2="298.2"><stop offset="0" stop-color="#f6e636"/><stop offset="0.041" stop-color="#e6d044"/><stop offset="0.083" stop-color="#6abca0"/><stop offset="0.120" stop-color="#1f8cd8"/><stop offset="0.184" stop-color="#1a68d8"/><stop offset="0.550" stop-color="#1a68d8"/><stop offset="0.750" stop-color="#1f6cd8"/><stop offset="1" stop-color="#2452cc"/></linearGradient>
<rect x="455.0" y="253.7" width="6.4" height="51.4" fill="url(#pk3_9)"/>
<rect x="457.1" y="273.7" width="2.4" height="19.5" rx="1" fill="#2f94e0" opacity="0.35"/>
<linearGradient id="pk3_10" gradientUnits="userSpaceOnUse" x1="0" y1="265.3" x2="0" y2="296.9"><stop offset="0" stop-color="#58b0b8"/><stop offset="0.057" stop-color="#3c9ccc"/><stop offset="0.114" stop-color="#6abca0"/><stop offset="0.165" stop-color="#1f8cd8"/><stop offset="0.253" stop-color="#1a68d8"/><stop offset="0.550" stop-color="#1a68d8"/><stop offset="0.750" stop-color="#1f6cd8"/><stop offset="1" stop-color="#2452cc"/></linearGradient>
<rect x="460.8" y="264.3" width="10.0" height="39.6" fill="url(#pk3_10)"/>
<rect x="461.9" y="284.3" width="3.9" height="14.2" rx="1" fill="#2f94e0" opacity="0.35"/>
</g>
<polygon points="396.5,311.5 396.5,291.1 397.9,290.8 397.9,311.2" fill="#1f6cdc" />
<linearGradient id="gf3" gradientUnits="userSpaceOnUse" x1="396.5" y1="310.2" x2="421.8" y2="321.0"><stop offset="0" stop-color="#2e48bc"/><stop offset="1" stop-color="#383caa"/></linearGradient>
<polygon points="396.5,307.0 465.6,292.0 490.9,304.8 490.9,306.1 421.8,321.0 420.5,321.9 419.3,321.7 418.0,321.0 416.7,319.1 415.5,320.0 414.2,319.8 412.9,319.1 411.7,317.2 410.4,318.1 409.1,317.9 407.9,317.2 406.6,315.3 405.3,316.2 404.1,316.0 402.8,315.3 401.5,313.4 400.3,314.3 399.0,314.1 397.7,313.4 396.5,311.5" fill="url(#gf3)" />
<polygon points="395.0,310.6 397.8,303.2 398.7,303.0 401.5,309.1 404.7,312.3" fill="#2a58cc" opacity="0.7"/>
<polygon points="401.1,309.2 403.9,297.5 404.9,297.2 407.7,307.8 410.9,310.9" fill="#2a58cc" opacity="0.7"/>
<polygon points="407.3,307.9 410.0,292.4 411.0,292.2 413.8,306.5 417.0,309.6" fill="#2a58cc" opacity="0.7"/>
<polygon points="413.2,306.6 416.0,295.9 417.0,295.7 419.8,305.2 422.9,308.3" fill="#2a58cc" opacity="0.7"/>
<polygon points="422.0,304.7 424.8,293.4 425.8,293.2 428.5,303.3 431.7,306.4" fill="#2a58cc" opacity="0.7"/>
<polygon points="428.1,303.4 430.9,286.6 431.9,286.3 434.7,302.0 437.9,305.1" fill="#2a58cc" opacity="0.7"/>
<polygon points="434.2,302.1 436.9,290.9 437.9,290.7 440.7,300.7 443.9,303.8" fill="#2a58cc" opacity="0.7"/>
<polygon points="442.9,300.2 445.7,289.1 446.7,288.9 449.5,298.8 452.7,301.9" fill="#2a58cc" opacity="0.7"/>
<polygon points="449.0,298.9 451.8,283.4 452.8,283.2 455.5,297.5 458.7,300.6" fill="#2a58cc" opacity="0.7"/>
<polygon points="455.0,297.6 457.8,285.9 458.8,285.7 461.6,296.2 464.8,299.3" fill="#2a58cc" opacity="0.7"/>
<polygon points="460.6,296.4 463.4,288.3 464.4,288.0 467.2,294.9 470.4,298.1" fill="#2a58cc" opacity="0.7"/>
<polygon points="417.8,319.5 417.8,307.1 418.9,305.2 420.1,304.2 421.2,304.8 422.4,306.3 423.5,307.6 424.7,307.7 425.8,307.0 427.0,305.9 428.1,305.4 429.3,305.4 430.4,305.7 431.6,305.9 432.7,305.9 433.9,305.7 435.0,305.2 436.2,304.1 437.3,302.8 438.5,302.0 439.6,302.1 440.8,303.0 441.9,303.9 443.1,303.6 444.2,302.1 445.4,300.1 446.5,298.9 447.7,299.1 448.9,300.3 450.0,301.5 451.2,302.0 452.3,301.6 453.5,301.0 454.6,300.4 455.8,300.1 456.9,300.0 458.1,299.9 459.2,300.0 460.4,300.0 461.5,299.5 462.7,298.2 463.8,296.5 465.0,295.2 466.1,295.2 467.3,296.3 468.4,297.7 469.6,298.0 470.7,297.1 471.9,295.4 473.0,294.2 474.2,294.1 475.3,294.9 476.5,295.7 477.6,296.2 478.8,296.0 479.9,295.6 481.1,295.0 482.3,294.3 483.4,293.8 484.6,293.5 485.7,293.8 486.9,294.2 486.9,304.6" fill="#2a5cd8" />
<linearGradient id="gw3" gradientUnits="userSpaceOnUse" x1="0" y1="302.6" x2="0" y2="313.5"><stop offset="0" stop-color="#3448c8"/><stop offset="1" stop-color="#3840ba"/></linearGradient>
<polygon points="421.8,321.0 421.8,310.1 490.9,295.2 490.9,306.1" fill="url(#gw3)" />
<line x1="421.8" y1="310.1" x2="490.9" y2="295.2" stroke="#2c7cea" stroke-width="1.4"/>
<ellipse cx="431.5" cy="269.3" rx="17.3" ry="34.1" fill="none" stroke="#ee1020" stroke-width="2.5"/>
<line x1="401.5" y1="250.8" x2="409.4" y2="256.3" stroke="#000" stroke-width="2.2"/>
<polygon points="412.7,258.6 407.1,248.3 407.6,255.1 401.1,256.9" fill="#000" stroke="#000" stroke-width="0.8" stroke-linejoin="round"/></g>
<g id="labels"><g transform="translate(53.95,66.83)"><text font-family="'Liberation Sans', sans-serif" font-weight="bold" stroke="#1c1c1c" stroke-width="0.2" font-size="17.2" fill="#1c1c1c" >0</text></g>
<g transform="translate(38.65,98.42)"><text font-family="'Liberation Sans', sans-serif" font-weight="bold" stroke="#1c1c1c" stroke-width="0.2" font-size="17.2" fill="#1c1c1c" >-23</text></g>
<g transform="translate(53.17,145.80)"><text font-family="'Liberation Sans', sans-serif" font-weight="bold" stroke="#1c1c1c" stroke-width="0.2" font-size="17.2" fill="#1c1c1c" >1</text></g>
<g transform="translate(96.55,159.82)"><text font-family="'Liberation Sans', sans-serif" font-weight="bold" stroke="#1c1c1c" stroke-width="0.2" font-size="17.2" fill="#1c1c1c" >0</text></g>
<g transform="translate(90.05,173.05)"><text font-family="'Liberation Sans', sans-serif" font-weight="bold" stroke="#1c1c1c" stroke-width="0.2" font-size="19.3" fill="#1c1c1c" >t</text></g>
<g transform="translate(132.10,174.05)"><text font-family="'Liberation Sans', sans-serif" font-weight="bold" stroke="#1c1c1c" stroke-width="0.2" font-size="17.2" fill="#1c1c1c" >-1</text></g>
<g transform="translate(166.45,174.03)"><text font-family="'Liberation Sans', sans-serif" font-weight="bold" stroke="#1c1c1c" stroke-width="0.2" font-size="17.2" fill="#1c1c1c" >-8</text></g>
<g transform="translate(222.35,164.03)"><text font-family="'Liberation Sans', sans-serif" font-weight="bold" stroke="#1c1c1c" stroke-width="0.2" font-size="17.2" fill="#1c1c1c" >0</text></g>
<g transform="translate(231.12,176.90)"><text font-family="'Liberation Sans', sans-serif" font-weight="bold" stroke="#1c1c1c" stroke-width="0.2" font-size="19.3" fill="#1c1c1c" >f</text></g>
<g transform="translate(237.32,186.95)"><text font-family="'Liberation Sans', sans-serif" font-weight="bold" stroke="#1c1c1c" stroke-width="0.2" font-size="17.2" fill="#1c1c1c" >D</text></g>
<g transform="translate(249.77,176.53)"><text font-family="'Liberation Sans', sans-serif" font-weight="bold" stroke="#1c1c1c" stroke-width="0.2" font-size="19.3" fill="#1c1c1c" >T</text></g>
<g transform="translate(276.88,153.28)"><text font-family="'Liberation Sans', sans-serif" font-weight="bold" stroke="#1c1c1c" stroke-width="0.2" font-size="17.2" fill="#1c1c1c" >8</text></g>
<g transform="translate(20.00,144.88)"><text transform="rotate(-90)" font-family="'Liberation Sans', sans-serif" font-weight="bold" stroke="#1c1c1c" stroke-width="0.3" font-size="19.3" fill="#1c1c1c">A(t,f<tspan dy="10.0" font-size="17.2">D</tspan><tspan dy="-10.0">) (dB)</tspan></text></g>
<g transform="translate(320.25,54.38)"><text font-family="'Liberation Sans', sans-serif" font-weight="bold" stroke="#1c1c1c" stroke-width="0.2" font-size="17.2" fill="#1c1c1c" >0</text></g>
<g transform="translate(304.23,88.78)"><text font-family="'Liberation Sans', sans-serif" font-weight="bold" stroke="#1c1c1c" stroke-width="0.2" font-size="17.2" fill="#1c1c1c" >-23</text></g>
<g transform="translate(319.43,138.70)"><text font-family="'Liberation Sans', sans-serif" font-weight="bold" stroke="#1c1c1c" stroke-width="0.2" font-size="17.2" fill="#1c1c1c" >1</text></g>
<g transform="translate(361.20,155.07)"><text font-family="'Liberation Sans', sans-serif" font-weight="bold" stroke="#1c1c1c" stroke-width="0.2" font-size="17.2" fill="#1c1c1c" >0</text></g>
<g transform="translate(355.05,169.15)"><text font-family="'Liberation Sans', sans-serif" font-weight="bold" stroke="#1c1c1c" stroke-width="0.2" font-size="19.3" fill="#1c1c1c" >t</text></g>
<g transform="translate(395.95,169.20)"><text font-family="'Liberation Sans', sans-serif" font-weight="bold" stroke="#1c1c1c" stroke-width="0.2" font-size="17.2" fill="#1c1c1c" >-1</text></g>
<g transform="translate(429.80,170.62)"><text font-family="'Liberation Sans', sans-serif" font-weight="bold" stroke="#1c1c1c" stroke-width="0.2" font-size="17.2" fill="#1c1c1c" >-8</text></g>
<g transform="translate(483.75,158.62)"><text font-family="'Liberation Sans', sans-serif" font-weight="bold" stroke="#1c1c1c" stroke-width="0.2" font-size="17.2" fill="#1c1c1c" >0</text></g>
<g transform="translate(490.23,172.55)"><text font-family="'Liberation Sans', sans-serif" font-weight="bold" stroke="#1c1c1c" stroke-width="0.2" font-size="19.3" fill="#1c1c1c" >f</text></g>
<g transform="translate(496.52,182.35)"><text font-family="'Liberation Sans', sans-serif" font-weight="bold" stroke="#1c1c1c" stroke-width="0.2" font-size="17.2" fill="#1c1c1c" >D</text></g>
<g transform="translate(508.83,172.38)"><text font-family="'Liberation Sans', sans-serif" font-weight="bold" stroke="#1c1c1c" stroke-width="0.2" font-size="19.3" fill="#1c1c1c" >T</text></g>
<g transform="translate(537.08,146.43)"><text font-family="'Liberation Sans', sans-serif" font-weight="bold" stroke="#1c1c1c" stroke-width="0.2" font-size="17.2" fill="#1c1c1c" >8</text></g>
<g transform="translate(285.30,137.07)"><text transform="rotate(-90)" font-family="'Liberation Sans', sans-serif" font-weight="bold" stroke="#1c1c1c" stroke-width="0.3" font-size="19.3" fill="#1c1c1c">A(t,f<tspan dy="10.0" font-size="17.2">D</tspan><tspan dy="-10.0">) (dB)</tspan></text></g>
<g transform="translate(60.80,242.82)"><text font-family="'Liberation Sans', sans-serif" font-weight="bold" stroke="#1c1c1c" stroke-width="0.2" font-size="17.2" fill="#1c1c1c" >0</text></g>
<g transform="translate(44.42,275.77)"><text font-family="'Liberation Sans', sans-serif" font-weight="bold" stroke="#1c1c1c" stroke-width="0.2" font-size="17.2" fill="#1c1c1c" >-23</text></g>
<g transform="translate(59.47,325.15)"><text font-family="'Liberation Sans', sans-serif" font-weight="bold" stroke="#1c1c1c" stroke-width="0.2" font-size="17.2" fill="#1c1c1c" >1</text></g>
<g transform="translate(101.25,339.62)"><text font-family="'Liberation Sans', sans-serif" font-weight="bold" stroke="#1c1c1c" stroke-width="0.2" font-size="17.2" fill="#1c1c1c" >0</text></g>
<g transform="translate(95.35,355.40)"><text font-family="'Liberation Sans', sans-serif" font-weight="bold" stroke="#1c1c1c" stroke-width="0.2" font-size="19.3" fill="#1c1c1c" >t</text></g>
<g transform="translate(134.30,354.60)"><text font-family="'Liberation Sans', sans-serif" font-weight="bold" stroke="#1c1c1c" stroke-width="0.2" font-size="17.2" fill="#1c1c1c" >-1</text></g>
<g transform="translate(167.05,356.52)"><text font-family="'Liberation Sans', sans-serif" font-weight="bold" stroke="#1c1c1c" stroke-width="0.2" font-size="17.2" fill="#1c1c1c" >-8</text></g>
<g transform="translate(220.40,344.48)"><text font-family="'Liberation Sans', sans-serif" font-weight="bold" stroke="#1c1c1c" stroke-width="0.2" font-size="17.2" fill="#1c1c1c" >0</text></g>
<g transform="translate(225.23,361.35)"><text font-family="'Liberation Sans', sans-serif" font-weight="bold" stroke="#1c1c1c" stroke-width="0.2" font-size="19.3" fill="#1c1c1c" >f</text></g>
<g transform="translate(231.52,371.35)"><text font-family="'Liberation Sans', sans-serif" font-weight="bold" stroke="#1c1c1c" stroke-width="0.2" font-size="17.2" fill="#1c1c1c" >D</text></g>
<g transform="translate(244.03,361.07)"><text font-family="'Liberation Sans', sans-serif" font-weight="bold" stroke="#1c1c1c" stroke-width="0.2" font-size="19.3" fill="#1c1c1c" >T</text></g>
<g transform="translate(272.93,333.52)"><text font-family="'Liberation Sans', sans-serif" font-weight="bold" stroke="#1c1c1c" stroke-width="0.2" font-size="17.2" fill="#1c1c1c" >8</text></g>
<g transform="translate(25.90,322.77)"><text transform="rotate(-90)" font-family="'Liberation Sans', sans-serif" font-weight="bold" stroke="#1c1c1c" stroke-width="0.3" font-size="19.3" fill="#1c1c1c">A(t,f<tspan dy="10.0" font-size="17.2">D</tspan><tspan dy="-10.0">) (dB)</tspan></text></g>
<g transform="translate(320.25,240.53)"><text font-family="'Liberation Sans', sans-serif" font-weight="bold" stroke="#1c1c1c" stroke-width="0.2" font-size="17.2" fill="#1c1c1c" >0</text></g>
<g transform="translate(304.42,272.57)"><text font-family="'Liberation Sans', sans-serif" font-weight="bold" stroke="#1c1c1c" stroke-width="0.2" font-size="17.2" fill="#1c1c1c" >-23</text></g>
<g transform="translate(319.48,321.90)"><text font-family="'Liberation Sans', sans-serif" font-weight="bold" stroke="#1c1c1c" stroke-width="0.2" font-size="17.2" fill="#1c1c1c" >1</text></g>
<g transform="translate(361.15,336.48)"><text font-family="'Liberation Sans', sans-serif" font-weight="bold" stroke="#1c1c1c" stroke-width="0.2" font-size="17.2" fill="#1c1c1c" >0</text></g>
<g transform="translate(355.85,351.75)"><text font-family="'Liberation Sans', sans-serif" font-weight="bold" stroke="#1c1c1c" stroke-width="0.2" font-size="19.3" fill="#1c1c1c" >t</text></g>
<g transform="translate(394.15,351.05)"><text font-family="'Liberation Sans', sans-serif" font-weight="bold" stroke="#1c1c1c" stroke-width="0.2" font-size="17.2" fill="#1c1c1c" >-1</text></g>
<g transform="translate(427.25,352.77)"><text font-family="'Liberation Sans', sans-serif" font-weight="bold" stroke="#1c1c1c" stroke-width="0.2" font-size="17.2" fill="#1c1c1c" >-8</text></g>
<g transform="translate(480.30,340.93)"><text font-family="'Liberation Sans', sans-serif" font-weight="bold" stroke="#1c1c1c" stroke-width="0.2" font-size="17.2" fill="#1c1c1c" >0</text></g>
<g transform="translate(487.02,357.95)"><text font-family="'Liberation Sans', sans-serif" font-weight="bold" stroke="#1c1c1c" stroke-width="0.2" font-size="19.3" fill="#1c1c1c" >f</text></g>
<g transform="translate(493.32,367.70)"><text font-family="'Liberation Sans', sans-serif" font-weight="bold" stroke="#1c1c1c" stroke-width="0.2" font-size="17.2" fill="#1c1c1c" >D</text></g>
<g transform="translate(506.07,357.73)"><text font-family="'Liberation Sans', sans-serif" font-weight="bold" stroke="#1c1c1c" stroke-width="0.2" font-size="19.3" fill="#1c1c1c" >T</text></g>
<g transform="translate(532.62,329.52)"><text font-family="'Liberation Sans', sans-serif" font-weight="bold" stroke="#1c1c1c" stroke-width="0.2" font-size="17.2" fill="#1c1c1c" >8</text></g>
<g transform="translate(285.30,320.18)"><text transform="rotate(-90)" font-family="'Liberation Sans', sans-serif" font-weight="bold" stroke="#1c1c1c" stroke-width="0.3" font-size="19.3" fill="#1c1c1c">A(t,f<tspan dy="10.0" font-size="17.2">D</tspan><tspan dy="-10.0">) (dB)</tspan></text></g>
<g transform="translate(125.85,29.35)"><text transform="scale(1.18,1)" font-family="'Liberation Serif', serif" font-style="italic" stroke="#1c1c1c" stroke-width="0.35" font-size="18.5" fill="#1c1c1c">ν</text></g>
<g transform="translate(134.90,39.10)"><text font-family="'Liberation Sans', sans-serif" font-weight="bold" stroke="#1c1c1c" stroke-width="0.2" font-size="16" fill="#1c1c1c" >1</text></g>
<g transform="translate(143.10,28.45)"><text font-family="'DejaVu Sans', sans-serif" font-weight="bold" stroke="#1c1c1c" stroke-width="0.45" font-size="16" fill="#1c1c1c">=</text></g>
<g transform="translate(156.95,29.35)"><text transform="scale(1.18,1)" font-family="'Liberation Serif', serif" font-style="italic" stroke="#1c1c1c" stroke-width="0.35" font-size="18.5" fill="#1c1c1c">ν</text></g>
<g transform="translate(167.97,39.10)"><text font-family="'Liberation Sans', sans-serif" font-weight="bold" stroke="#1c1c1c" stroke-width="0.2" font-size="16" fill="#1c1c1c" >2</text></g>
<g transform="translate(176.00,28.45)"><text font-family="'DejaVu Sans', sans-serif" font-weight="bold" stroke="#1c1c1c" stroke-width="0.45" font-size="16" fill="#1c1c1c">=</text></g>
<g transform="translate(188.80,29.60)"><text transform="scale(0.9,1)" font-family="'Liberation Sans', sans-serif" font-weight="bold" stroke="#1c1c1c" stroke-width="0.2" font-size="16" fill="#1c1c1c" >1</text></g>
<g transform="translate(370.20,22.55)"><text transform="scale(1.18,1)" font-family="'Liberation Serif', serif" font-style="italic" stroke="#1c1c1c" stroke-width="0.35" font-size="18.5" fill="#1c1c1c">ν</text></g>
<g transform="translate(379.05,32.10)"><text font-family="'Liberation Sans', sans-serif" font-weight="bold" stroke="#1c1c1c" stroke-width="0.2" font-size="16" fill="#1c1c1c" >1</text></g>
<g transform="translate(387.15,21.65)"><text font-family="'DejaVu Sans', sans-serif" font-weight="bold" stroke="#1c1c1c" stroke-width="0.45" font-size="16" fill="#1c1c1c">=</text></g>
<g transform="translate(401.35,22.55)"><text transform="scale(1.18,1)" font-family="'Liberation Serif', serif" font-style="italic" stroke="#1c1c1c" stroke-width="0.35" font-size="18.5" fill="#1c1c1c">ν</text></g>
<g transform="translate(412.32,32.10)"><text font-family="'Liberation Sans', sans-serif" font-weight="bold" stroke="#1c1c1c" stroke-width="0.2" font-size="16" fill="#1c1c1c" >2</text></g>
<g transform="translate(420.70,21.65)"><text font-family="'DejaVu Sans', sans-serif" font-weight="bold" stroke="#1c1c1c" stroke-width="0.45" font-size="16" fill="#1c1c1c">=</text></g>
<g transform="translate(433.55,22.55)"><text transform="scale(1.17,1)" font-family="'Liberation Sans', sans-serif" font-weight="bold" stroke="#1c1c1c" stroke-width="0.2" font-size="16" fill="#1c1c1c" >5</text></g>
<g transform="translate(445.85,23.30)"><text font-family="'DejaVu Sans', sans-serif" font-size="18" fill="#1c1c1c">×</text></g>
<g transform="translate(462.12,22.55)"><text font-family="'Liberation Sans', sans-serif" font-weight="bold" stroke="#1c1c1c" stroke-width="0.2" font-size="16" fill="#1c1c1c" >10</text></g>
<g transform="translate(481.90,15.60)"><text transform="scale(1.17,1)" font-family="'Liberation Sans', sans-serif" font-weight="bold" stroke="#1c1c1c" stroke-width="0.2" font-size="14.5" fill="#1c1c1c" >-4</text></g>
<g transform="translate(122.05,212.45)"><text transform="scale(1.18,1)" font-family="'Liberation Serif', serif" font-style="italic" stroke="#1c1c1c" stroke-width="0.35" font-size="18.5" fill="#1c1c1c">ν</text></g>
<g transform="translate(131.25,222.10)"><text font-family="'Liberation Sans', sans-serif" font-weight="bold" stroke="#1c1c1c" stroke-width="0.2" font-size="16" fill="#1c1c1c" >1</text></g>
<g transform="translate(139.00,211.55)"><text font-family="'DejaVu Sans', sans-serif" font-weight="bold" stroke="#1c1c1c" stroke-width="0.45" font-size="16" fill="#1c1c1c">=</text></g>
<g transform="translate(153.25,212.45)"><text transform="scale(1.18,1)" font-family="'Liberation Serif', serif" font-style="italic" stroke="#1c1c1c" stroke-width="0.35" font-size="18.5" fill="#1c1c1c">ν</text></g>
<g transform="translate(164.68,222.10)"><text font-family="'Liberation Sans', sans-serif" font-weight="bold" stroke="#1c1c1c" stroke-width="0.2" font-size="16" fill="#1c1c1c" >2</text></g>
<g transform="translate(173.15,211.55)"><text font-family="'DejaVu Sans', sans-serif" font-weight="bold" stroke="#1c1c1c" stroke-width="0.45" font-size="16" fill="#1c1c1c">=</text></g>
<g transform="translate(186.43,212.45)"><text font-family="'Liberation Sans', sans-serif" font-weight="bold" stroke="#1c1c1c" stroke-width="0.2" font-size="16" fill="#1c1c1c" >10</text></g>
<g transform="translate(205.97,204.05)"><text transform="scale(1.17,1)" font-family="'Liberation Sans', sans-serif" font-weight="bold" stroke="#1c1c1c" stroke-width="0.2" font-size="14.5" fill="#1c1c1c" >-5</text></g>
<g transform="translate(369.30,209.65)"><text transform="scale(1.18,1)" font-family="'Liberation Serif', serif" font-style="italic" stroke="#1c1c1c" stroke-width="0.35" font-size="18.5" fill="#1c1c1c">ν</text></g>
<g transform="translate(378.35,219.30)"><text font-family="'Liberation Sans', sans-serif" font-weight="bold" stroke="#1c1c1c" stroke-width="0.2" font-size="16" fill="#1c1c1c" >1</text></g>
<g transform="translate(386.00,208.75)"><text font-family="'DejaVu Sans', sans-serif" font-weight="bold" stroke="#1c1c1c" stroke-width="0.45" font-size="16" fill="#1c1c1c">=</text></g>
<g transform="translate(400.20,209.65)"><text transform="scale(1.18,1)" font-family="'Liberation Serif', serif" font-style="italic" stroke="#1c1c1c" stroke-width="0.35" font-size="18.5" fill="#1c1c1c">ν</text></g>
<g transform="translate(411.52,219.30)"><text font-family="'Liberation Sans', sans-serif" font-weight="bold" stroke="#1c1c1c" stroke-width="0.2" font-size="16" fill="#1c1c1c" >2</text></g>
<g transform="translate(419.85,208.75)"><text font-family="'DejaVu Sans', sans-serif" font-weight="bold" stroke="#1c1c1c" stroke-width="0.45" font-size="16" fill="#1c1c1c">=</text></g>
<g transform="translate(431.98,209.90)"><text transform="scale(1.17,1)" font-family="'Liberation Sans', sans-serif" font-weight="bold" stroke="#1c1c1c" stroke-width="0.2" font-size="16" fill="#1c1c1c" >2</text></g>
<g transform="translate(444.40,210.40)"><text font-family="'DejaVu Sans', sans-serif" font-size="18" fill="#1c1c1c">×</text></g>
<g transform="translate(460.82,209.65)"><text font-family="'Liberation Sans', sans-serif" font-weight="bold" stroke="#1c1c1c" stroke-width="0.2" font-size="16" fill="#1c1c1c" >10</text></g>
<g transform="translate(480.65,201.50)"><text transform="scale(1.17,1)" font-family="'Liberation Sans', sans-serif" font-weight="bold" stroke="#1c1c1c" stroke-width="0.2" font-size="14.5" fill="#1c1c1c" >-7</text></g>
<g transform="translate(96.00,72.90)"><text font-family="'Liberation Sans', sans-serif" font-size="11.5" fill="#1c1c1c" >Constraint</text></g>
<g transform="translate(95.75,88.80)"><text font-family="'Liberation Sans', sans-serif" font-size="11.5" fill="#1c1c1c" >interval</text></g>
<g transform="translate(357.90,61.00)"><text font-family="'Liberation Sans', sans-serif" font-size="11.5" fill="#1c1c1c" >Constraint</text></g>
<g transform="translate(357.65,76.50)"><text font-family="'Liberation Sans', sans-serif" font-size="11.5" fill="#1c1c1c" >interval</text></g>
<g transform="translate(94.80,254.00)"><text font-family="'Liberation Sans', sans-serif" font-size="11.5" fill="#1c1c1c" >Constraint</text></g>
<g transform="translate(94.55,269.50)"><text font-family="'Liberation Sans', sans-serif" font-size="11.5" fill="#1c1c1c" >interval</text></g>
<g transform="translate(353.40,247.40)"><text font-family="'Liberation Sans', sans-serif" font-size="11.5" fill="#1c1c1c" >Constraint</text></g>
<g transform="translate(353.15,263.20)"><text font-family="'Liberation Sans', sans-serif" font-size="11.5" fill="#1c1c1c" >interval</text></g></g>
</g>
</svg></body></html>
